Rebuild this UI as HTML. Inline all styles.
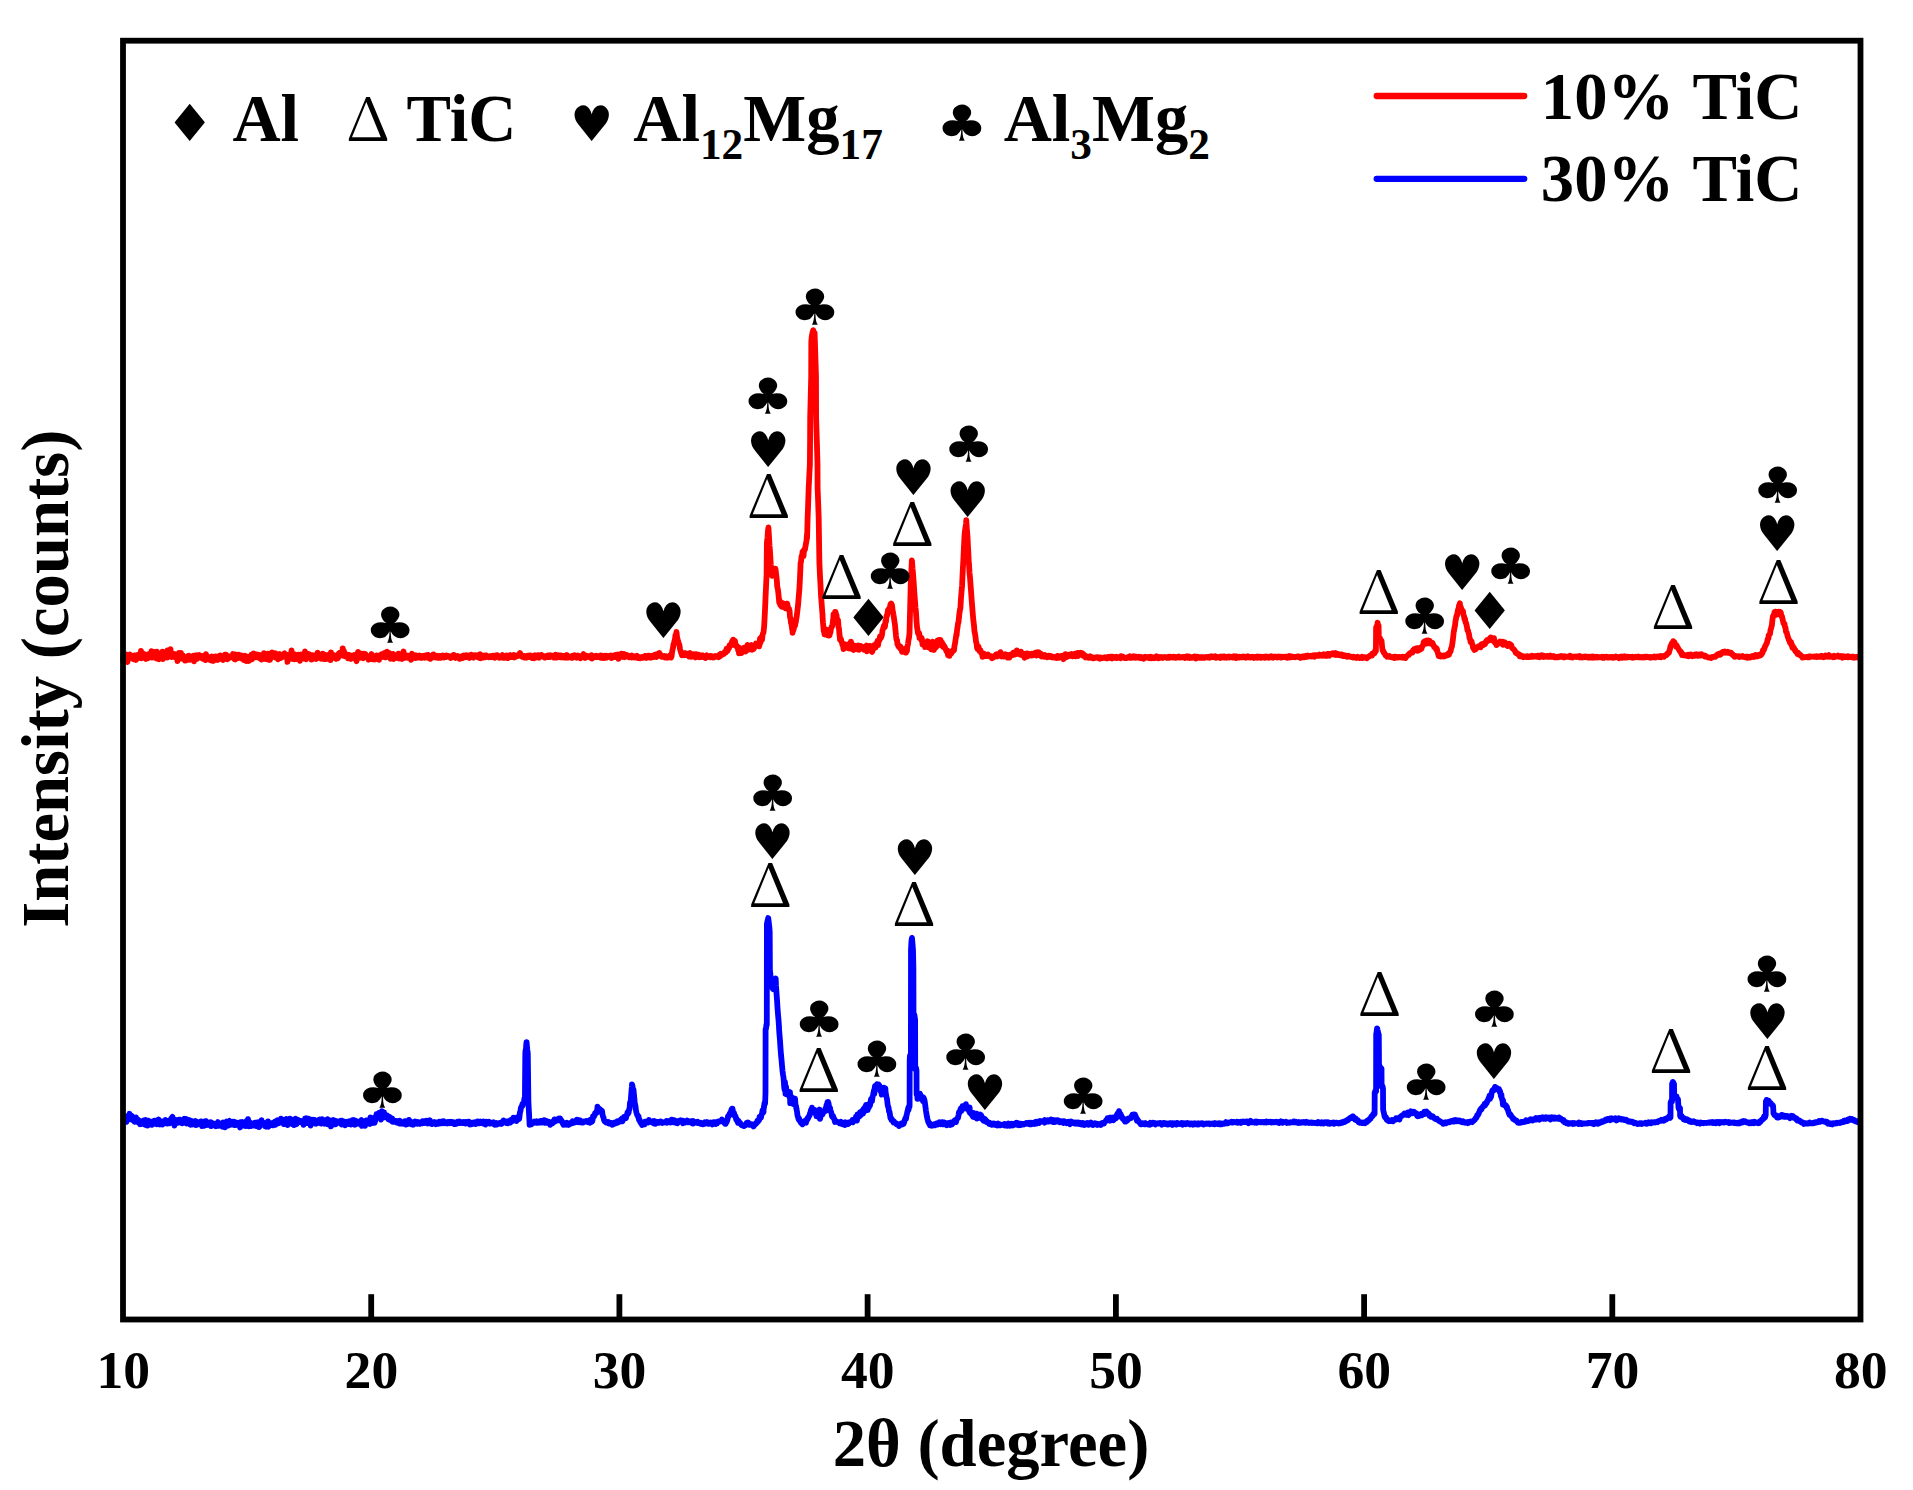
<!DOCTYPE html>
<html><head><meta charset="utf-8"><title>XRD</title>
<style>
html,body{margin:0;padding:0;background:#fff;overflow:hidden;}
svg{display:block;}
text{font-family:"Liberation Serif","DejaVu Serif",serif;fill:#000;}
.b{font-weight:bold;}
.s{font-family:"DejaVu Sans","Liberation Serif",sans-serif;}
.D{font-family:"Noto Serif CJK SC","Liberation Serif",serif;}
</style></head>
<body>
<svg width="1913" height="1490" viewBox="0 0 1913 1490">
<rect width="1913" height="1490" fill="#fff"/>
<g fill="none" stroke-linejoin="round" stroke-linecap="butt" stroke-width="5.8">
<path stroke="#ff0000" d="M123.0,661.5 123.5,654.6 124.0,658.7 124.5,657.1 125.0,657.0 125.5,657.2 126.0,654.4 126.5,656.8 127.0,655.6 127.5,662.0 128.0,656.9 128.5,655.8 129.0,656.0 129.5,655.2 130.0,654.5 130.5,655.7 131.0,657.4 131.5,656.0 132.0,658.2 132.5,656.1 133.0,656.5 133.5,659.3 134.0,657.4 134.5,655.4 135.0,656.0 135.5,657.4 136.0,660.0 136.5,655.9 137.0,655.9 137.5,658.3 138.0,654.6 138.5,655.8 139.0,658.0 139.5,657.4 140.0,656.5 140.5,657.6 141.0,650.8 141.5,658.3 142.0,654.4 142.5,653.0 143.0,656.8 143.5,657.6 144.0,655.4 144.5,654.1 145.0,656.3 145.5,656.1 146.0,659.0 146.5,657.7 147.0,656.6 147.5,658.4 148.0,655.8 148.5,654.3 149.0,657.3 149.5,657.3 150.0,655.7 150.5,654.6 151.0,656.6 151.5,651.1 152.0,657.5 152.5,657.1 153.0,652.8 153.5,656.2 154.0,654.1 154.5,657.6 155.0,652.0 155.5,654.2 156.0,657.5 156.5,658.4 157.0,651.6 157.5,655.0 158.0,656.7 158.5,654.8 159.0,659.3 159.5,653.6 160.0,656.7 160.5,653.8 161.0,658.6 161.5,655.6 162.0,654.7 162.5,651.6 163.0,659.0 163.5,656.8 164.0,656.7 164.5,657.5 165.0,655.6 165.5,653.1 166.0,652.5 166.5,652.4 167.0,657.7 167.5,650.4 168.0,652.4 168.5,653.0 169.0,654.4 169.5,655.2 170.0,649.9 170.5,649.2 171.0,653.9 171.5,657.1 172.0,656.2 172.5,655.0 173.0,654.0 173.5,655.6 174.0,654.6 174.5,657.1 175.0,654.0 175.5,656.1 176.0,655.8 176.5,657.1 177.0,656.6 177.5,661.1 178.0,659.1 178.5,659.1 179.0,652.8 179.5,655.9 180.0,655.6 180.5,657.6 181.0,653.0 181.5,658.7 182.0,658.6 182.5,655.0 183.0,655.6 183.5,655.9 184.0,657.3 184.5,658.3 185.0,660.6 185.5,657.1 186.0,658.6 186.5,657.6 187.0,660.2 187.5,658.6 188.0,659.6 188.5,655.7 189.0,657.1 189.5,656.1 190.0,659.8 190.5,658.5 191.0,656.9 191.5,656.7 192.0,658.2 192.5,656.3 193.0,655.9 193.5,658.2 194.0,661.3 194.5,657.0 195.0,656.5 195.5,655.5 196.0,655.3 196.5,658.2 197.0,658.8 197.5,657.4 198.0,657.9 198.5,657.6 199.0,657.6 199.5,655.0 200.0,656.7 200.5,657.6 201.0,656.1 201.5,656.6 202.0,656.1 202.5,656.9 203.0,658.8 203.5,656.7 204.0,657.2 204.5,658.7 205.0,658.4 205.5,660.1 206.0,654.1 206.5,658.8 207.0,656.6 207.5,657.6 208.0,658.7 208.5,659.1 209.0,659.1 209.5,657.6 210.0,660.0 210.5,656.9 211.0,657.2 211.5,658.7 212.0,656.5 212.5,660.9 213.0,659.0 213.5,660.9 214.0,657.4 214.5,656.8 215.0,657.7 215.5,658.6 216.0,656.5 216.5,658.0 217.0,657.4 217.5,660.0 218.0,656.3 218.5,659.1 219.0,656.4 219.5,655.9 220.0,656.3 220.5,655.5 221.0,657.6 221.5,659.1 222.0,657.7 222.5,658.4 223.0,660.0 223.5,657.8 224.0,657.7 224.5,657.0 225.0,654.8 225.5,658.6 226.0,654.6 226.5,658.4 227.0,657.4 227.5,659.2 228.0,657.3 228.5,656.1 229.0,658.0 229.5,656.5 230.0,657.1 230.5,657.5 231.0,657.2 231.5,657.1 232.0,656.1 232.5,657.1 233.0,654.0 233.5,657.1 234.0,655.5 234.5,659.2 235.0,659.4 235.5,654.3 236.0,657.6 236.5,657.2 237.0,655.7 237.5,658.3 238.0,656.7 238.5,654.6 239.0,657.0 239.5,657.2 240.0,657.6 240.5,655.4 241.0,658.4 241.5,658.6 242.0,655.6 242.5,656.3 243.0,657.3 243.5,656.5 244.0,660.2 244.5,657.7 245.0,655.8 245.5,656.1 246.0,657.3 246.5,661.1 247.0,657.1 247.5,657.6 248.0,658.2 248.5,657.3 249.0,661.0 249.5,656.5 250.0,658.5 250.5,657.3 251.0,657.8 251.5,654.7 252.0,659.3 252.5,655.8 253.0,655.8 253.5,653.5 254.0,653.6 254.5,656.1 255.0,656.8 255.5,656.1 256.0,657.3 256.5,656.0 257.0,654.5 257.5,656.6 258.0,656.2 258.5,654.8 259.0,656.8 259.5,658.1 260.0,656.1 260.5,655.2 261.0,657.4 261.5,659.6 262.0,656.1 262.5,656.3 263.0,656.2 263.5,658.8 264.0,653.1 264.5,657.2 265.0,658.7 265.5,655.0 266.0,659.2 266.5,657.5 267.0,655.5 267.5,656.9 268.0,653.6 268.5,655.4 269.0,659.9 269.5,654.8 270.0,659.9 270.5,656.3 271.0,658.3 271.5,656.5 272.0,652.3 272.5,655.4 273.0,656.8 273.5,654.3 274.0,653.9 274.5,657.1 275.0,655.2 275.5,653.2 276.0,655.1 276.5,658.0 277.0,655.5 277.5,658.2 278.0,659.3 278.5,656.5 279.0,654.3 279.5,654.0 280.0,656.4 280.5,658.1 281.0,656.9 281.5,657.4 282.0,655.6 282.5,657.0 283.0,655.5 283.5,655.8 284.0,653.9 284.5,653.4 285.0,655.5 285.5,654.3 286.0,654.5 286.5,657.6 287.0,656.2 287.5,661.9 288.0,658.1 288.5,655.2 289.0,657.8 289.5,657.0 290.0,655.0 290.5,658.5 291.0,654.9 291.5,650.5 292.0,657.9 292.5,655.2 293.0,659.2 293.5,655.1 294.0,654.1 294.5,659.3 295.0,654.3 295.5,656.7 296.0,659.1 296.5,656.5 297.0,656.2 297.5,656.5 298.0,657.9 298.5,654.7 299.0,657.5 299.5,657.4 300.0,660.8 300.5,655.6 301.0,654.5 301.5,657.7 302.0,655.5 302.5,656.9 303.0,656.6 303.5,658.6 304.0,655.0 304.5,656.1 305.0,651.4 305.5,654.6 306.0,659.3 306.5,655.0 307.0,654.9 307.5,653.9 308.0,657.4 308.5,656.6 309.0,654.0 309.5,657.6 310.0,656.8 310.5,657.8 311.0,655.1 311.5,659.7 312.0,657.1 312.5,656.1 313.0,655.3 313.5,655.8 314.0,658.0 314.5,655.8 315.0,658.4 315.5,657.4 316.0,658.9 316.5,657.9 317.0,656.2 317.5,652.6 318.0,656.9 318.5,657.8 319.0,656.6 319.5,657.4 320.0,655.4 320.5,655.6 321.0,654.5 321.5,658.9 322.0,656.6 322.5,655.3 323.0,653.7 323.5,656.0 324.0,659.1 324.5,657.2 325.0,654.9 325.5,659.1 326.0,659.1 326.5,658.2 327.0,657.8 327.5,658.5 328.0,657.4 328.5,657.8 329.0,654.8 329.5,659.2 330.0,656.7 330.5,660.2 331.0,652.3 331.5,657.7 332.0,658.2 332.5,655.6 333.0,657.2 333.5,657.7 334.0,657.4 334.5,655.3 335.0,656.0 335.5,658.3 336.0,658.8 336.5,656.5 337.0,656.4 337.5,656.7 338.0,658.2 338.5,654.1 339.0,653.2 339.5,655.7 340.0,652.8 340.5,653.5 341.0,654.7 341.5,655.3 342.0,651.3 342.5,655.6 342.7,648.5 343.0,655.0 343.5,650.3 344.0,651.4 344.5,656.1 345.0,654.1 345.5,653.7 346.0,654.8 346.5,656.8 347.0,656.2 347.5,656.2 348.0,658.3 348.5,654.9 349.0,655.4 349.5,655.3 350.0,658.6 350.5,658.2 351.0,658.8 351.5,656.2 352.0,656.0 352.5,657.9 353.0,655.5 353.5,657.9 354.0,657.7 354.5,655.0 355.0,656.1 355.5,656.1 356.0,659.6 356.5,661.3 357.0,656.1 357.5,656.3 358.0,651.9 358.5,656.7 359.0,656.3 359.5,654.2 360.0,657.8 360.5,653.3 361.0,655.9 361.5,656.6 362.0,653.9 362.5,657.9 363.0,658.3 363.5,653.6 364.0,653.6 364.5,657.5 365.0,656.2 365.5,654.0 366.0,655.7 366.5,656.1 367.0,656.0 367.5,657.9 368.0,657.0 368.5,659.7 369.0,658.9 369.5,657.6 370.0,658.3 370.5,658.8 371.0,657.6 371.5,654.0 372.0,657.9 372.5,656.4 373.0,659.4 373.5,656.5 374.0,657.3 374.5,656.9 375.0,659.5 375.5,656.6 376.0,655.8 376.5,656.9 377.0,655.5 377.5,656.6 378.0,656.3 378.5,656.8 379.0,659.9 379.5,655.5 380.0,656.4 380.5,655.9 381.0,657.5 381.5,654.1 382.0,655.1 382.5,655.9 383.0,656.7 383.5,655.3 384.0,654.1 384.5,653.0 385.0,655.6 385.5,657.4 386.0,654.6 386.5,654.0 386.6,654.6 387.0,651.6 387.5,653.4 388.0,653.8 388.5,655.3 389.0,655.0 389.5,653.1 390.0,657.6 390.5,658.7 391.0,655.9 391.5,657.0 392.0,656.8 392.5,657.7 393.0,653.8 393.5,659.1 394.0,655.5 394.5,658.5 395.0,656.5 395.5,655.7 396.0,656.1 396.5,657.8 397.0,655.0 397.5,655.8 398.0,655.6 398.5,653.6 399.0,658.5 399.5,657.3 400.0,656.4 400.5,658.2 401.0,654.9 401.5,656.3 402.0,659.0 402.5,657.9 403.0,653.1 403.5,651.5 404.0,654.9 404.5,658.0 405.0,655.8 405.5,656.1 406.0,657.3 406.5,655.2 407.0,656.8 407.5,657.6 408.0,657.1 408.5,657.0 409.0,655.7 409.5,657.2 410.0,655.9 410.5,658.2 411.0,659.8 411.5,655.6 412.0,653.7 412.5,656.0 413.0,657.0 413.5,657.8 414.0,657.9 414.5,655.6 415.0,655.6 415.5,658.1 416.0,655.3 416.5,657.8 417.0,656.3 417.5,657.5 418.0,657.4 418.5,657.5 419.0,657.5 419.5,655.5 420.0,656.9 420.5,656.6 421.0,656.9 421.5,657.9 422.0,656.3 422.5,655.9 423.0,655.8 423.5,656.3 424.0,657.4 424.5,655.8 425.0,657.8 425.5,656.9 426.0,656.4 426.5,655.3 427.0,656.8 427.5,657.3 428.0,654.9 428.5,657.8 429.0,658.2 429.5,656.9 430.0,657.1 430.5,658.9 431.0,657.8 431.5,655.8 432.0,656.6 432.5,656.5 433.0,656.5 433.5,654.4 434.0,657.3 434.5,656.0 435.0,656.7 435.5,656.5 436.0,657.4 436.5,656.3 437.0,655.9 437.5,657.1 438.0,657.8 438.5,656.3 439.0,657.8 439.5,656.8 440.0,656.1 440.5,657.9 441.0,655.9 441.5,657.5 442.0,656.2 442.5,657.0 443.0,655.5 443.5,655.9 444.0,657.5 444.5,656.8 445.0,656.6 445.5,656.2 446.0,657.0 446.5,655.4 447.0,655.7 447.5,656.5 448.0,655.9 448.5,656.0 449.0,656.5 449.5,656.5 450.0,656.4 450.5,658.0 451.0,657.4 451.5,657.6 452.0,656.6 452.5,656.2 453.0,655.4 453.5,656.3 454.0,654.9 454.5,656.1 455.0,657.2 455.5,657.9 456.0,657.4 456.5,655.9 457.0,657.0 457.5,655.9 458.0,657.2 458.5,656.5 459.0,657.3 459.5,658.7 460.0,657.3 460.5,658.5 461.0,656.7 461.5,656.3 462.0,657.6 462.5,658.0 463.0,656.1 463.5,656.6 464.0,655.4 464.5,656.4 465.0,657.3 465.5,656.5 466.0,656.1 466.5,655.4 467.0,656.9 467.5,657.2 468.0,657.0 468.5,656.8 469.0,655.5 469.5,658.0 470.0,656.5 470.5,656.4 471.0,657.1 471.5,654.8 472.0,656.5 472.5,656.4 473.0,656.9 473.5,657.6 474.0,656.9 474.5,655.1 475.0,656.3 475.5,656.7 476.0,656.7 476.5,655.5 477.0,655.2 477.5,657.0 478.0,656.8 478.5,656.5 479.0,655.2 479.5,658.0 480.0,654.2 480.5,656.3 481.0,658.2 481.5,656.4 482.0,656.7 482.5,655.6 483.0,657.6 483.5,655.5 484.0,656.7 484.5,656.6 485.0,655.7 485.5,657.3 486.0,655.4 486.5,656.0 487.0,656.5 487.5,656.2 488.0,656.9 488.5,657.3 489.0,656.3 489.5,656.1 490.0,656.1 490.5,656.2 491.0,657.2 491.5,656.4 492.0,656.9 492.5,656.5 493.0,655.9 493.5,657.2 494.0,655.7 494.5,656.5 495.0,657.7 495.5,655.6 496.0,656.5 496.5,655.3 497.0,656.1 497.5,655.3 498.0,656.2 498.5,656.1 499.0,656.6 499.5,657.8 500.0,656.7 500.5,657.0 501.0,656.5 501.5,656.3 502.0,655.8 502.5,655.1 503.0,656.6 503.5,657.8 504.0,656.9 504.5,656.1 505.0,657.8 505.5,656.2 506.0,656.0 506.5,655.5 507.0,655.7 507.5,656.3 508.0,658.1 508.5,656.3 509.0,655.7 509.5,656.0 510.0,656.3 510.5,655.1 511.0,656.6 511.5,657.1 512.0,656.8 512.5,657.0 513.0,655.5 513.5,655.1 514.0,657.5 514.5,657.4 515.0,655.3 515.5,656.5 516.0,656.3 516.5,656.6 517.0,656.2 517.5,655.4 518.0,655.9 518.5,655.8 519.0,655.5 519.5,653.9 520.0,653.0 520.5,655.1 521.0,654.5 521.5,656.2 522.0,656.7 522.5,656.4 523.0,656.0 523.5,656.5 524.0,657.4 524.5,655.9 525.0,657.2 525.5,657.1 526.0,656.7 526.5,657.7 527.0,655.9 527.5,657.3 528.0,655.7 528.5,655.9 529.0,655.6 529.5,656.9 530.0,655.7 530.5,656.5 531.0,655.6 531.5,657.4 532.0,658.0 532.5,656.7 533.0,657.8 533.5,657.0 534.0,658.3 534.5,656.6 535.0,655.2 535.5,657.7 536.0,656.4 536.5,655.7 537.0,656.0 537.5,655.2 538.0,656.4 538.5,655.6 539.0,657.7 539.5,657.0 540.0,655.2 540.5,655.3 541.0,656.0 541.5,654.9 542.0,656.4 542.5,656.5 543.0,655.9 543.5,656.1 544.0,656.9 544.5,657.6 545.0,657.7 545.5,656.5 546.0,657.2 546.5,655.9 547.0,656.8 547.5,655.7 548.0,657.1 548.5,655.5 549.0,655.7 549.5,656.5 550.0,657.0 550.5,655.3 551.0,656.1 551.5,656.6 552.0,656.7 552.5,655.8 553.0,656.6 553.5,656.3 554.0,657.6 554.5,657.0 555.0,655.4 555.5,654.7 556.0,656.6 556.5,657.5 557.0,656.6 557.5,657.2 558.0,656.1 558.5,655.4 559.0,657.1 559.5,656.6 560.0,657.1 560.5,655.4 561.0,656.6 561.5,656.0 562.0,657.2 562.5,656.0 563.0,656.0 563.5,656.0 564.0,657.5 564.5,656.5 565.0,655.9 565.5,655.7 566.0,655.7 566.5,657.7 567.0,655.0 567.5,655.8 568.0,657.0 568.5,657.5 569.0,656.4 569.5,657.1 570.0,657.1 570.5,657.3 571.0,656.5 571.5,657.8 572.0,656.7 572.5,657.8 573.0,655.6 573.5,657.3 574.0,655.5 574.5,655.3 575.0,656.9 575.5,655.9 576.0,656.9 576.5,655.7 577.0,657.8 577.5,656.5 578.0,655.6 578.5,656.7 579.0,657.2 579.5,655.9 580.0,657.0 580.5,658.2 581.0,657.2 581.5,656.5 582.0,656.1 582.5,657.0 583.0,655.3 583.5,654.1 584.0,656.0 584.5,655.7 585.0,658.0 585.5,656.7 586.0,655.7 586.5,655.6 587.0,657.0 587.5,655.9 588.0,656.1 588.5,656.5 589.0,656.6 589.5,656.6 590.0,656.6 590.5,657.6 591.0,657.9 591.5,655.2 592.0,658.6 592.5,656.7 593.0,657.6 593.5,656.0 594.0,656.8 594.5,656.7 595.0,656.7 595.5,657.2 596.0,657.1 596.5,655.7 597.0,656.5 597.5,657.1 598.0,657.1 598.5,656.3 599.0,656.3 599.5,656.4 600.0,655.7 600.5,655.5 601.0,657.8 601.5,656.2 602.0,656.6 602.5,655.9 603.0,657.6 603.5,657.9 604.0,656.3 604.5,656.9 605.0,655.9 605.5,657.9 606.0,657.2 606.5,655.8 607.0,657.5 607.5,656.7 608.0,656.8 608.5,656.7 609.0,655.8 609.5,655.9 610.0,656.9 610.5,656.3 611.0,655.6 611.5,658.1 612.0,656.2 612.5,655.9 613.0,655.7 613.5,656.9 614.0,657.1 614.5,656.5 615.0,657.0 615.5,655.0 616.0,656.0 616.5,655.9 617.0,656.3 617.5,656.7 618.0,654.5 618.5,658.9 619.0,655.5 619.5,656.5 620.0,656.9 620.5,656.9 621.0,656.4 621.5,653.6 622.0,655.2 622.5,656.8 623.0,655.3 623.5,655.2 624.0,654.0 624.5,657.2 625.0,656.5 625.5,655.3 626.0,656.0 626.5,656.0 627.0,655.1 627.5,655.8 628.0,656.3 628.5,656.6 629.0,657.2 629.5,656.3 630.0,656.0 630.5,656.7 631.0,656.0 631.5,655.6 632.0,657.5 632.5,656.4 633.0,656.9 633.5,657.3 634.0,656.2 634.5,657.5 635.0,657.4 635.5,657.1 636.0,657.5 636.5,656.8 637.0,655.9 637.5,657.3 637.6,656.9 638.0,658.1 638.5,657.6 639.0,657.1 639.5,657.4 640.0,658.3 640.5,658.1 641.0,657.5 641.5,657.6 642.0,657.0 642.5,657.1 643.0,657.6 643.5,657.0 644.0,657.3 644.5,656.3 645.0,655.9 645.5,655.8 646.0,656.6 646.5,657.9 647.0,657.7 647.5,656.1 648.0,655.7 648.5,657.4 649.0,657.1 649.5,655.7 650.0,657.5 650.5,656.8 651.0,657.6 651.5,656.9 652.0,657.3 652.5,656.8 652.7,655.8 653.0,656.3 653.5,655.8 654.0,656.9 654.5,655.3 655.0,654.7 655.5,656.5 656.0,656.8 656.5,657.0 657.0,656.6 657.5,654.0 658.0,654.6 658.5,654.7 659.0,655.1 659.3,652.8 659.5,655.1 660.0,655.5 660.5,654.5 661.0,655.6 661.5,656.7 662.0,655.8 662.5,656.8 663.0,656.9 663.5,656.5 664.0,656.7 664.5,656.2 665.0,657.6 665.5,656.5 665.9,656.4 666.0,657.4 666.5,656.3 667.0,657.1 667.5,657.6 668.0,656.8 668.5,656.8 669.0,657.4 669.5,657.2 670.0,655.4 670.5,655.6 671.0,657.6 671.5,656.7 672.0,652.6 672.5,649.9 673.0,647.9 673.5,644.1 674.0,643.4 674.5,640.8 675.0,639.2 675.5,634.9 676.0,635.1 676.4,635.8 676.5,632.0 677.0,637.0 677.5,639.0 678.0,640.9 678.5,642.6 679.0,643.8 679.5,645.6 680.0,649.0 680.5,650.7 681.0,652.4 681.5,653.7 682.0,655.3 682.5,654.1 683.0,653.3 683.5,654.9 684.0,655.2 684.5,654.8 685.0,653.1 685.5,654.3 686.0,653.3 686.5,655.1 687.0,653.8 687.5,654.8 688.0,655.4 688.5,655.2 689.0,656.5 689.5,654.0 690.0,653.0 690.5,656.2 691.0,656.7 691.5,656.8 692.0,655.6 692.5,655.9 693.0,655.6 693.5,654.2 694.0,655.0 694.5,656.0 695.0,655.1 695.5,657.5 696.0,654.2 696.5,655.3 697.0,656.8 697.5,655.3 698.0,654.8 698.5,654.7 699.0,655.3 699.5,657.3 700.0,656.4 700.5,656.5 701.0,655.6 701.5,656.9 702.0,656.3 702.5,655.4 703.0,655.8 703.5,656.4 704.0,657.3 704.5,656.3 705.0,656.8 705.5,658.0 706.0,655.8 706.5,655.4 707.0,657.3 707.5,656.9 708.0,656.5 708.5,656.8 709.0,656.4 709.5,657.0 710.0,656.4 710.5,657.3 711.0,655.9 711.5,656.2 712.0,656.9 712.5,656.5 713.0,657.4 713.5,656.9 714.0,656.6 714.5,657.1 715.0,656.6 715.3,656.0 715.5,656.2 716.0,656.1 716.5,656.1 717.0,656.3 717.5,656.7 718.0,656.2 718.5,657.1 719.0,656.4 719.5,654.8 720.0,656.4 720.5,655.7 721.0,653.8 721.5,654.3 722.0,655.0 722.5,653.8 723.0,654.5 723.5,653.5 724.0,653.7 724.5,652.2 725.0,652.8 725.5,651.6 726.0,652.2 726.5,648.7 727.0,650.5 727.5,651.0 728.0,649.5 728.5,648.0 729.0,648.2 729.5,645.5 730.0,644.8 730.5,644.7 731.0,644.2 731.5,645.0 732.0,641.3 732.5,643.5 733.0,639.6 733.2,639.6 733.5,641.2 734.0,644.0 734.5,642.2 735.0,641.0 735.5,645.7 736.0,646.0 736.5,645.3 737.0,646.2 737.5,647.5 738.0,649.3 738.3,650.7 738.5,647.2 739.0,653.3 739.5,649.4 740.0,648.8 740.5,650.4 741.0,649.4 741.5,653.1 742.0,650.9 742.5,648.4 743.0,648.2 743.5,648.0 744.0,648.2 744.5,649.8 745.0,647.4 745.5,651.5 746.0,648.4 746.5,648.3 747.0,650.3 747.5,645.0 748.0,646.9 748.5,649.7 749.0,648.6 749.5,648.6 750.0,649.3 750.5,647.5 750.7,648.3 751.0,646.2 751.5,645.1 752.0,649.8 752.5,645.9 753.0,645.9 753.5,649.2 754.0,648.3 754.5,645.3 755.0,644.9 755.5,645.4 756.0,643.5 756.5,645.8 757.0,644.7 757.5,644.4 758.0,645.2 758.5,644.8 759.0,646.4 759.5,645.0 760.0,638.7 760.5,642.6 761.0,638.2 761.5,636.9 762.0,639.8 762.5,635.4 763.0,633.3 763.5,632.5 764.0,627.7 764.1,627.1 764.5,620.0 765.0,610.2 765.4,601.5 765.5,598.2 766.0,587.5 766.5,576.6 766.6,575.0 766.9,542.5 767.0,542.1 767.5,537.3 768.0,530.8 768.4,527.5 768.5,529.0 769.0,536.5 769.3,542.2 769.5,545.5 770.0,551.4 770.5,560.0 770.8,564.5 771.0,566.4 771.5,567.4 772.0,571.9 772.2,575.9 772.5,574.6 773.0,569.8 773.5,571.5 774.0,573.6 774.5,569.1 775.0,569.4 775.4,570.9 775.5,568.7 776.0,573.4 776.5,577.3 777.0,582.5 777.2,586.7 777.5,587.4 778.0,590.2 778.5,594.5 779.0,599.6 779.2,602.4 779.5,600.0 780.0,604.5 780.5,602.5 781.0,605.6 781.5,606.4 782.0,606.7 782.5,603.1 783.0,604.0 783.5,606.3 784.0,603.5 784.5,605.2 785.0,606.4 785.5,608.2 786.0,604.4 786.5,603.9 787.0,605.0 787.2,603.5 787.5,605.1 788.0,608.0 788.5,609.5 789.0,608.7 789.4,611.5 789.5,609.9 790.0,617.1 790.5,618.7 791.0,623.0 791.5,623.8 792.0,628.0 792.5,631.3 792.6,632.8 793.0,627.7 793.5,630.4 794.0,627.2 794.5,624.7 795.0,625.8 795.5,622.9 795.8,622.3 796.0,620.4 796.5,617.8 797.0,613.9 797.5,610.0 798.0,605.7 798.5,599.5 799.0,593.5 799.5,587.5 799.6,585.1 800.0,577.3 800.5,565.8 800.6,563.0 801.0,562.0 801.5,556.7 802.0,555.3 802.3,554.8 802.5,551.7 803.0,551.2 803.5,556.2 804.0,550.0 804.5,549.1 805.0,549.3 805.5,546.3 806.0,543.3 806.5,540.9 807.0,534.1 807.1,538.0 807.5,522.2 807.6,518.6 808.0,508.0 808.5,493.6 808.7,487.4 809.0,482.1 809.5,471.3 809.9,463.9 810.0,451.8 810.1,439.9 810.2,417.0 810.5,405.0 811.0,385.1 811.2,377.1 811.3,342.0 811.5,339.3 812.0,334.7 812.2,335.1 812.5,332.3 813.0,331.6 813.2,330.1 813.5,331.5 814.0,332.9 814.5,332.7 814.6,332.8 814.9,341.7 815.0,344.8 815.5,361.2 816.0,377.0 816.1,417.0 816.5,430.4 817.0,446.9 817.5,464.0 817.6,488.0 818.0,498.0 818.5,512.5 818.7,517.7 819.0,537.6 819.4,563.2 819.5,565.0 820.0,576.2 820.5,584.8 821.0,595.4 821.5,601.7 822.0,608.4 822.5,614.4 822.6,617.1 823.0,622.8 823.5,628.2 823.7,630.7 824.0,629.7 824.5,634.4 825.0,632.8 825.5,634.6 826.0,629.3 826.5,634.1 827.0,631.4 827.5,635.2 828.0,635.4 828.5,632.9 829.0,634.7 829.5,635.4 830.0,633.1 830.5,632.1 831.0,628.2 831.5,627.3 831.8,626.4 832.0,626.8 832.5,624.8 833.0,620.5 833.4,617.3 833.5,614.5 834.0,617.1 834.5,614.5 835.0,612.0 835.5,612.0 836.0,614.2 836.5,615.0 837.0,621.4 837.5,620.3 838.0,620.1 838.2,622.0 838.5,627.0 839.0,628.7 839.5,634.7 839.8,637.1 840.0,639.4 840.5,639.3 841.0,639.2 841.5,641.9 842.0,642.6 842.5,645.1 843.0,645.1 843.5,649.2 844.0,645.2 844.5,646.3 845.0,644.3 845.5,645.9 846.0,645.8 846.5,646.2 847.0,647.7 847.5,645.0 848.0,644.5 848.5,648.3 849.0,645.8 849.5,645.1 850.0,648.7 850.5,648.0 851.0,641.7 851.5,646.1 852.0,648.3 852.5,648.5 853.0,646.1 853.5,650.0 854.0,645.5 854.5,646.5 855.0,647.1 855.5,646.8 856.0,648.4 856.5,648.7 857.0,646.7 857.5,649.4 858.0,645.4 858.5,646.2 859.0,649.9 859.5,646.8 860.0,648.6 860.5,645.9 861.0,646.4 861.5,646.8 862.0,647.5 862.5,646.7 863.0,647.5 863.5,648.8 864.0,649.8 864.5,648.1 865.0,649.2 865.5,649.8 866.0,646.5 866.5,645.6 867.0,651.3 867.5,650.8 868.0,648.6 868.5,649.1 869.0,646.8 869.5,646.1 870.0,649.1 870.5,646.0 871.0,650.2 871.5,647.4 872.0,649.2 872.1,652.0 872.5,651.0 873.0,647.3 873.5,648.8 874.0,645.1 874.5,645.3 875.0,646.3 875.5,647.5 876.0,643.7 876.5,645.1 877.0,643.8 877.5,640.9 878.0,642.4 878.1,645.1 878.5,641.4 879.0,641.0 879.5,640.2 880.0,636.5 880.5,638.4 881.0,637.6 881.5,636.5 882.0,634.8 882.5,630.4 883.0,628.9 883.5,627.2 884.0,625.6 884.2,625.4 884.5,627.4 885.0,626.4 885.5,620.9 886.0,621.7 886.5,616.1 887.0,616.0 887.5,612.9 888.0,609.9 888.5,611.1 889.0,610.1 889.5,607.9 890.0,606.5 890.5,604.3 891.0,605.1 891.4,603.5 891.5,605.4 892.0,605.0 892.5,609.6 893.0,612.2 893.4,614.5 893.5,615.0 894.0,618.4 894.5,621.8 895.0,624.9 895.5,630.6 896.0,635.8 896.5,639.6 897.0,639.9 897.4,644.0 897.5,644.6 898.0,644.1 898.5,646.6 899.0,647.0 899.5,646.8 900.0,648.1 900.5,646.6 901.0,648.1 901.5,648.9 902.0,651.7 902.3,648.6 902.5,650.6 903.0,651.8 903.5,650.3 904.0,651.3 904.5,648.9 905.0,650.3 905.5,650.8 906.0,652.6 906.5,650.0 907.0,650.9 907.1,648.6 907.5,646.1 908.0,644.1 908.5,640.0 909.0,637.6 909.5,633.2 910.0,613.4 910.5,593.4 910.7,584.3 911.0,579.5 911.5,568.3 911.9,560.5 912.0,561.0 912.5,568.2 913.0,573.3 913.5,580.1 913.8,584.0 914.0,587.5 914.5,594.7 915.0,601.3 915.5,607.7 915.6,608.2 916.0,612.4 916.5,620.7 917.0,627.0 917.5,629.6 918.0,633.3 918.5,633.2 919.0,635.4 919.2,633.1 919.5,638.1 920.0,637.5 920.5,636.9 921.0,639.7 921.5,637.7 922.0,639.3 922.5,644.5 922.8,642.8 923.0,643.4 923.5,643.3 924.0,643.3 924.5,642.7 925.0,647.1 925.5,642.8 926.0,644.6 926.5,643.1 927.0,643.1 927.5,641.3 928.0,641.6 928.5,647.5 929.0,647.6 929.5,644.4 930.0,645.4 930.5,646.9 931.0,644.3 931.3,649.4 931.5,644.4 932.0,645.2 932.5,641.7 933.0,649.5 933.5,647.1 934.0,650.0 934.5,645.5 934.9,647.8 935.0,647.3 935.5,646.1 936.0,647.3 936.5,646.4 937.0,644.0 937.5,640.3 938.0,640.9 938.5,641.4 939.0,640.1 939.5,640.9 940.0,641.5 940.5,639.9 941.0,642.6 941.5,645.5 942.0,642.4 942.5,644.9 943.0,646.9 943.5,644.8 944.0,647.4 944.5,646.3 944.6,647.9 945.0,647.5 945.5,648.9 946.0,650.1 946.5,651.2 947.0,652.0 947.5,650.6 948.0,655.1 948.5,654.2 949.0,654.4 949.4,655.3 949.5,655.9 950.0,654.1 950.5,653.8 951.0,653.0 951.5,653.2 952.0,651.1 952.5,651.7 953.0,650.8 953.5,649.5 954.0,650.5 954.2,648.6 954.5,645.8 955.0,643.6 955.5,640.2 956.0,636.8 956.5,633.8 956.6,635.4 957.0,630.5 957.5,627.6 958.0,623.4 958.5,622.2 959.0,617.1 959.5,612.9 960.0,609.0 960.3,609.2 960.5,606.6 961.0,598.0 961.5,592.1 962.0,586.5 962.1,585.4 962.5,575.8 963.0,566.2 963.5,556.8 963.9,548.0 964.0,546.0 964.5,535.8 965.0,530.5 965.5,527.9 966.0,524.0 966.3,520.1 966.5,523.7 967.0,530.8 967.5,536.3 968.0,546.8 968.5,556.0 968.7,561.3 969.0,563.8 969.5,572.7 970.0,577.5 970.5,584.0 971.0,590.6 971.5,597.7 972.0,604.3 972.3,608.1 972.5,610.4 973.0,616.4 973.5,621.7 974.0,625.5 974.5,631.9 974.7,632.0 975.0,633.7 975.5,636.9 976.0,641.7 976.5,643.1 976.6,643.8 977.0,647.5 977.5,648.9 978.0,649.2 978.5,646.5 979.0,649.3 979.5,651.1 980.0,651.1 980.5,650.3 981.0,652.5 981.5,652.3 982.0,653.5 982.5,656.9 983.0,655.5 983.5,653.5 984.0,653.6 984.5,655.6 985.0,654.8 985.5,656.0 986.0,655.0 986.5,655.5 987.0,656.0 987.5,655.1 988.0,654.5 988.5,655.3 989.0,655.8 989.5,656.3 990.0,656.5 990.5,656.6 991.0,657.2 991.5,656.4 991.7,657.9 992.0,658.2 992.5,657.0 993.0,656.7 993.5,657.3 994.0,656.7 994.5,656.2 995.0,655.8 995.5,655.1 996.0,654.6 996.5,656.0 997.0,656.4 997.5,654.1 998.0,654.9 998.5,655.0 999.0,654.2 999.5,653.7 1000.0,653.9 1000.5,652.1 1000.7,654.0 1001.0,653.9 1001.5,656.5 1002.0,655.5 1002.5,654.3 1003.0,654.8 1003.5,656.6 1004.0,656.6 1004.5,655.5 1005.0,655.4 1005.5,654.4 1006.0,655.5 1006.5,655.8 1007.0,655.6 1007.5,657.6 1008.0,655.1 1008.5,656.5 1008.7,657.0 1009.0,656.8 1009.5,657.4 1010.0,654.8 1010.5,655.0 1011.0,655.3 1011.5,655.1 1012.0,654.3 1012.5,653.6 1013.0,655.1 1013.5,652.6 1014.0,652.8 1014.5,654.7 1015.0,654.7 1015.5,653.5 1016.0,651.2 1016.5,650.8 1016.8,650.4 1017.0,650.4 1017.5,651.5 1018.0,653.8 1018.5,652.8 1019.0,651.9 1019.5,652.2 1020.0,652.0 1020.5,654.8 1021.0,651.7 1021.5,654.3 1022.0,652.9 1022.5,653.5 1023.0,653.4 1023.5,655.9 1024.0,655.2 1024.5,657.8 1024.8,654.8 1025.0,654.7 1025.5,656.1 1026.0,655.9 1026.5,655.1 1027.0,653.4 1027.5,656.5 1028.0,655.6 1028.5,655.3 1029.0,654.3 1029.5,655.4 1030.0,654.1 1030.5,654.6 1031.0,654.2 1031.5,655.6 1032.0,653.7 1032.5,653.8 1033.0,655.2 1033.5,654.2 1034.0,653.8 1034.5,653.5 1035.0,654.7 1035.5,652.8 1036.0,654.0 1036.5,655.6 1036.9,653.7 1037.0,652.4 1037.5,652.2 1038.0,653.9 1038.5,652.7 1039.0,652.5 1039.5,653.6 1040.0,653.5 1040.5,655.6 1041.0,653.7 1041.5,656.5 1042.0,654.8 1042.5,655.7 1043.0,656.3 1043.5,656.2 1044.0,656.7 1044.5,655.8 1045.0,655.1 1045.5,656.5 1046.0,655.5 1046.5,656.3 1047.0,657.3 1047.5,656.6 1048.0,656.3 1048.5,655.9 1049.0,656.5 1049.5,656.6 1050.0,655.7 1050.5,657.0 1051.0,656.0 1051.5,656.9 1052.0,656.5 1052.5,657.5 1053.0,657.4 1053.5,656.8 1054.0,656.8 1054.5,657.1 1055.0,657.7 1055.5,657.5 1056.0,657.0 1056.5,657.1 1057.0,657.9 1057.5,655.9 1058.0,657.3 1058.5,656.4 1059.0,657.8 1059.5,656.7 1060.0,656.9 1060.5,656.2 1061.0,656.8 1061.5,657.3 1062.0,657.8 1062.5,655.8 1063.0,656.2 1063.5,659.2 1064.0,657.0 1064.5,656.3 1065.0,656.6 1065.5,654.2 1066.0,657.3 1066.5,656.1 1067.0,654.8 1067.5,656.8 1068.0,655.3 1068.5,654.9 1069.0,656.1 1069.5,655.9 1070.0,655.1 1070.5,655.3 1071.0,654.2 1071.5,654.0 1072.0,656.0 1072.5,656.3 1073.0,655.4 1073.5,655.3 1074.0,654.5 1074.5,654.7 1075.0,653.8 1075.5,656.3 1076.0,654.0 1076.5,654.9 1077.0,654.4 1077.5,653.0 1078.0,656.1 1078.5,653.8 1079.0,653.3 1079.5,654.1 1080.0,653.1 1080.5,653.9 1081.0,652.8 1081.5,654.6 1082.0,654.4 1082.5,653.4 1083.0,655.7 1083.5,655.3 1084.0,654.6 1084.5,655.9 1085.0,656.2 1085.5,657.4 1086.0,655.9 1086.5,657.2 1087.0,656.9 1087.5,657.6 1088.0,657.4 1088.5,657.5 1089.0,657.8 1089.5,656.8 1090.0,656.3 1090.5,657.5 1091.0,657.2 1091.5,657.5 1092.0,657.9 1092.5,657.4 1093.0,658.2 1093.5,657.5 1094.0,657.6 1094.5,658.0 1095.0,657.8 1095.5,657.4 1096.0,657.6 1096.5,657.1 1097.0,657.1 1097.5,657.5 1098.0,658.0 1098.5,657.2 1099.0,658.0 1099.5,658.6 1100.0,658.7 1100.5,657.5 1101.0,658.1 1101.5,657.8 1102.0,657.9 1102.5,658.0 1103.0,657.8 1103.5,657.9 1104.0,657.6 1104.5,657.3 1105.0,657.6 1105.5,657.8 1106.0,658.2 1106.5,657.7 1107.0,657.9 1107.5,658.3 1108.0,657.0 1108.5,657.3 1109.0,657.8 1109.5,657.5 1110.0,656.9 1110.5,658.0 1111.0,657.4 1111.5,656.9 1112.0,658.5 1112.5,656.8 1113.0,657.5 1113.5,657.1 1114.0,657.5 1114.5,657.8 1115.0,657.0 1115.5,657.4 1116.0,657.4 1116.5,656.9 1117.0,658.1 1117.5,657.5 1118.0,657.3 1118.5,657.1 1119.0,657.3 1119.5,657.5 1120.0,657.2 1120.5,658.1 1121.0,656.1 1121.5,656.3 1122.0,657.3 1122.5,656.5 1123.0,657.4 1123.5,657.1 1124.0,657.7 1124.5,657.6 1125.0,658.1 1125.5,657.9 1126.0,658.1 1126.5,657.7 1127.0,658.0 1127.5,657.7 1128.0,657.1 1128.5,656.8 1129.0,656.8 1129.5,657.7 1130.0,656.2 1130.5,657.5 1131.0,657.0 1131.5,657.8 1132.0,657.5 1132.5,657.0 1133.0,657.4 1133.5,656.3 1134.0,657.5 1134.5,657.6 1135.0,656.5 1135.5,657.8 1136.0,657.3 1136.5,657.5 1137.0,656.7 1137.5,657.7 1138.0,657.7 1138.5,657.4 1139.0,656.9 1139.5,657.8 1140.0,658.0 1140.5,657.6 1141.0,657.9 1141.5,657.1 1142.0,657.5 1142.5,657.6 1143.0,657.5 1143.5,658.7 1144.0,657.6 1144.5,657.1 1145.0,657.8 1145.5,656.9 1146.0,657.6 1146.5,657.7 1147.0,657.1 1147.5,657.2 1148.0,656.9 1148.5,657.4 1149.0,657.1 1149.5,658.2 1150.0,657.7 1150.5,657.3 1151.0,656.7 1151.5,658.3 1152.0,658.0 1152.5,657.6 1153.0,657.5 1153.5,657.5 1154.0,657.2 1154.5,658.2 1155.0,657.5 1155.5,656.7 1156.0,657.1 1156.5,656.2 1157.0,657.7 1157.5,657.7 1158.0,658.2 1158.5,658.3 1159.0,657.0 1159.5,657.6 1160.0,657.8 1160.5,657.7 1161.0,657.1 1161.5,657.7 1162.0,657.6 1162.5,658.0 1163.0,657.3 1163.5,657.2 1164.0,657.1 1164.5,657.2 1165.0,657.0 1165.5,657.2 1166.0,657.6 1166.5,657.5 1167.0,657.9 1167.5,657.8 1168.0,657.6 1168.5,656.8 1169.0,657.6 1169.5,657.8 1170.0,656.7 1170.5,656.8 1171.0,656.9 1171.5,656.9 1172.0,657.2 1172.5,656.9 1173.0,657.5 1173.5,656.8 1174.0,657.2 1174.5,657.1 1175.0,656.9 1175.5,657.7 1176.0,657.3 1176.5,657.5 1177.0,657.1 1177.5,657.6 1178.0,657.5 1178.5,657.2 1179.0,656.5 1179.5,657.6 1180.0,657.6 1180.5,657.4 1181.0,657.4 1181.5,657.3 1182.0,657.4 1182.5,656.9 1183.0,657.2 1183.5,657.4 1184.0,657.0 1184.5,656.9 1185.0,658.0 1185.5,657.5 1186.0,657.1 1186.5,657.1 1187.0,656.2 1187.5,656.7 1188.0,657.2 1188.5,657.8 1189.0,656.4 1189.5,657.0 1190.0,658.0 1190.5,657.5 1191.0,657.4 1191.5,657.7 1192.0,657.2 1192.5,657.2 1193.0,657.5 1193.5,657.6 1194.0,656.8 1194.5,657.9 1195.0,656.5 1195.5,657.0 1196.0,658.5 1196.5,657.0 1197.0,657.5 1197.5,656.8 1198.0,657.1 1198.5,656.9 1199.0,657.1 1199.5,657.5 1200.0,657.9 1200.5,657.6 1201.0,657.8 1201.5,657.0 1202.0,657.8 1202.5,657.4 1203.0,657.8 1203.5,657.1 1204.0,657.1 1204.5,657.7 1205.0,657.5 1205.5,657.3 1206.0,656.9 1206.5,657.2 1207.0,657.4 1207.5,657.5 1208.0,657.0 1208.5,657.1 1209.0,657.4 1209.5,656.8 1210.0,657.6 1210.5,657.2 1211.0,657.1 1211.5,656.3 1212.0,656.6 1212.5,656.8 1213.0,657.0 1213.5,656.8 1214.0,657.3 1214.5,657.2 1215.0,657.1 1215.5,656.4 1216.0,657.7 1216.5,657.1 1217.0,657.4 1217.5,656.9 1218.0,657.2 1218.5,657.4 1219.0,657.2 1219.5,657.5 1220.0,657.1 1220.5,657.9 1221.0,656.5 1221.5,656.9 1222.0,657.5 1222.5,657.1 1223.0,657.0 1223.5,656.5 1224.0,657.6 1224.5,656.4 1225.0,657.3 1225.5,657.2 1226.0,657.5 1226.5,657.7 1227.0,656.9 1227.5,656.8 1228.0,657.0 1228.5,656.5 1229.0,657.4 1229.5,657.0 1230.0,657.2 1230.5,656.7 1231.0,657.1 1231.5,656.9 1232.0,657.1 1232.5,656.7 1233.0,657.5 1233.5,656.9 1234.0,656.2 1234.5,657.4 1235.0,657.0 1235.5,656.8 1236.0,658.0 1236.5,657.1 1237.0,656.6 1237.5,656.9 1238.0,657.2 1238.5,657.0 1239.0,657.6 1239.5,657.5 1240.0,656.8 1240.5,657.1 1241.0,657.3 1241.5,657.0 1242.0,656.9 1242.5,657.4 1243.0,657.3 1243.5,656.6 1244.0,656.9 1244.5,656.9 1245.0,657.1 1245.5,656.8 1246.0,657.6 1246.5,656.7 1247.0,656.7 1247.5,657.2 1248.0,656.3 1248.5,656.7 1249.0,657.3 1249.5,656.6 1250.0,656.8 1250.5,657.5 1251.0,657.2 1251.5,657.1 1252.0,657.2 1252.5,656.8 1253.0,657.2 1253.5,657.0 1254.0,658.0 1254.5,657.3 1255.0,657.0 1255.5,657.1 1256.0,657.1 1256.5,656.6 1257.0,656.8 1257.5,657.6 1258.0,656.6 1258.5,656.9 1259.0,657.4 1259.5,657.6 1260.0,656.7 1260.5,657.6 1261.0,656.9 1261.5,657.6 1262.0,657.2 1262.5,657.0 1263.0,657.3 1263.5,657.3 1264.0,656.8 1264.5,657.8 1265.0,656.9 1265.5,657.5 1266.0,656.9 1266.5,656.4 1267.0,656.7 1267.5,657.0 1268.0,657.3 1268.5,657.7 1269.0,657.1 1269.5,657.0 1270.0,656.6 1270.5,657.0 1271.0,657.2 1271.5,656.3 1272.0,657.5 1272.5,657.4 1273.0,657.8 1273.5,656.7 1274.0,657.1 1274.5,657.1 1275.0,656.6 1275.5,656.8 1276.0,656.7 1276.5,657.2 1277.0,657.2 1277.5,657.5 1278.0,656.9 1278.5,656.6 1279.0,657.2 1279.5,657.2 1280.0,657.3 1280.5,657.5 1281.0,656.8 1281.5,657.3 1282.0,656.7 1282.5,657.1 1283.0,657.3 1283.5,657.0 1284.0,657.1 1284.5,656.6 1285.0,656.8 1285.5,657.1 1286.0,656.6 1286.5,656.7 1287.0,657.8 1287.5,657.1 1288.0,656.7 1288.5,656.7 1289.0,657.5 1289.5,656.1 1290.0,656.9 1290.5,657.2 1291.0,656.8 1291.5,657.2 1292.0,656.6 1292.5,657.0 1293.0,657.0 1293.5,657.0 1294.0,657.0 1294.5,657.0 1295.0,657.3 1295.5,656.9 1296.0,656.8 1296.5,656.9 1297.0,656.9 1297.5,656.5 1298.0,656.3 1298.5,656.5 1299.0,657.1 1299.5,656.7 1300.0,656.8 1300.5,657.9 1301.0,657.2 1301.5,656.8 1302.0,656.6 1302.5,657.2 1303.0,656.4 1303.5,657.1 1304.0,656.8 1304.5,657.1 1305.0,656.3 1305.5,656.8 1306.0,655.8 1306.5,656.3 1307.0,656.8 1307.5,656.6 1308.0,655.6 1308.5,656.5 1309.0,656.4 1309.5,656.1 1310.0,655.8 1310.5,656.0 1311.0,655.8 1311.5,656.4 1312.0,656.1 1312.5,656.3 1313.0,656.1 1313.5,655.3 1314.0,655.8 1314.5,656.7 1315.0,655.2 1315.5,655.8 1316.0,655.3 1316.5,655.2 1317.0,655.6 1317.5,655.9 1318.0,655.8 1318.5,655.6 1319.0,655.8 1319.5,654.6 1320.0,655.6 1320.5,655.4 1321.0,655.1 1321.5,655.1 1322.0,654.7 1322.5,655.6 1323.0,654.6 1323.5,654.3 1324.0,654.9 1324.5,654.6 1325.0,654.8 1325.5,655.6 1326.0,654.7 1326.5,654.8 1327.0,655.8 1327.5,653.9 1328.0,654.8 1328.5,655.2 1329.0,655.3 1329.5,655.6 1330.0,654.1 1330.5,654.7 1331.0,654.3 1331.5,654.1 1332.0,653.9 1332.5,653.4 1333.0,654.4 1333.5,654.5 1333.6,653.5 1334.0,654.6 1334.5,654.0 1335.0,653.8 1335.5,653.0 1336.0,655.0 1336.5,654.9 1337.0,654.5 1337.5,654.5 1338.0,654.1 1338.5,655.1 1339.0,654.9 1339.5,655.3 1340.0,655.2 1340.5,654.5 1341.0,654.5 1341.5,655.5 1342.0,654.6 1342.5,655.6 1343.0,655.9 1343.5,655.0 1344.0,656.0 1344.5,655.8 1345.0,656.0 1345.5,655.6 1346.0,656.0 1346.5,656.2 1347.0,656.8 1347.5,656.5 1348.0,656.4 1348.5,655.8 1349.0,656.5 1349.5,656.2 1350.0,656.5 1350.5,656.7 1351.0,657.0 1351.5,657.0 1352.0,656.9 1352.5,656.9 1353.0,657.4 1353.5,656.8 1354.0,657.2 1354.5,657.6 1355.0,657.2 1355.5,657.6 1356.0,657.6 1356.5,658.0 1357.0,657.7 1357.5,656.8 1358.0,657.4 1358.5,657.5 1359.0,657.7 1359.5,657.6 1360.0,658.1 1360.5,657.8 1361.0,657.1 1361.5,657.3 1362.0,656.8 1362.5,658.1 1363.0,657.5 1363.5,657.5 1364.0,657.1 1364.5,657.4 1365.0,657.7 1365.5,657.5 1366.0,657.5 1366.5,657.4 1367.0,658.3 1367.2,657.5 1367.5,657.1 1368.0,657.0 1368.5,656.8 1369.0,656.5 1369.5,656.2 1370.0,655.6 1370.5,655.6 1371.0,655.5 1371.5,654.5 1371.9,655.6 1372.0,655.4 1372.5,653.5 1373.0,653.6 1373.5,653.8 1374.0,653.5 1374.5,653.3 1375.0,650.9 1375.5,650.8 1375.9,651.2 1376.0,639.4 1376.1,627.5 1376.5,626.8 1377.0,625.5 1377.5,624.5 1377.6,622.7 1378.0,624.6 1378.5,625.5 1378.6,625.7 1378.8,637.2 1379.0,636.9 1379.5,639.2 1380.0,638.2 1380.5,640.9 1381.0,641.6 1381.5,640.6 1382.0,645.7 1382.5,650.3 1383.0,650.4 1383.5,652.2 1384.0,652.9 1384.5,653.0 1385.0,654.3 1385.5,655.4 1386.0,655.8 1386.5,655.7 1387.0,656.7 1387.5,655.8 1388.0,656.4 1388.5,656.8 1389.0,656.8 1389.5,656.0 1390.0,656.6 1390.5,656.8 1391.0,656.9 1391.5,657.2 1392.0,657.3 1392.5,657.3 1392.6,657.4 1393.0,657.6 1393.5,657.7 1394.0,656.7 1394.5,658.0 1395.0,657.1 1395.5,657.5 1396.0,656.8 1396.5,657.1 1397.0,656.9 1397.5,657.6 1398.0,657.6 1398.5,657.3 1399.0,657.2 1399.5,657.4 1400.0,657.0 1400.5,657.1 1401.0,657.0 1401.5,657.6 1402.0,657.3 1402.5,656.9 1403.0,657.4 1403.5,657.5 1404.0,657.7 1404.5,657.1 1405.0,657.4 1405.5,658.0 1405.8,657.2 1406.0,657.0 1406.5,656.8 1407.0,656.0 1407.5,655.7 1408.0,655.1 1408.5,654.5 1409.0,654.8 1409.5,653.7 1410.0,653.0 1410.5,652.9 1411.0,652.5 1411.5,652.3 1412.0,652.3 1412.5,652.5 1413.0,650.4 1413.5,650.6 1414.0,649.3 1414.5,650.3 1415.0,650.2 1415.2,649.2 1415.5,648.9 1416.0,648.8 1416.5,648.3 1417.0,649.9 1417.5,650.8 1418.0,648.3 1418.5,650.4 1419.0,649.0 1419.5,647.9 1420.0,649.3 1420.5,649.4 1420.9,649.0 1421.0,648.4 1421.5,648.6 1422.0,646.5 1422.5,646.2 1423.0,645.3 1423.5,643.3 1423.7,642.1 1424.0,641.8 1424.5,642.8 1425.0,643.2 1425.5,641.0 1426.0,641.7 1426.5,643.6 1427.0,640.3 1427.5,642.1 1428.0,641.8 1428.4,642.0 1428.5,640.3 1429.0,642.0 1429.5,640.7 1430.0,643.5 1430.5,641.9 1431.0,643.4 1431.5,642.7 1432.0,643.9 1432.5,642.8 1433.0,644.7 1433.1,645.0 1433.5,645.0 1434.0,646.8 1434.5,646.5 1435.0,647.4 1435.5,647.8 1436.0,649.3 1436.5,648.3 1436.9,649.1 1437.0,649.5 1437.5,651.7 1438.0,653.4 1438.5,655.4 1438.7,656.0 1439.0,655.7 1439.5,655.9 1440.0,656.2 1440.5,655.1 1441.0,656.6 1441.5,655.9 1442.0,656.0 1442.5,656.3 1443.0,656.1 1443.4,655.7 1443.5,656.2 1444.0,656.6 1444.5,656.2 1445.0,656.1 1445.5,655.2 1446.0,655.1 1446.5,655.5 1447.0,655.5 1447.5,654.6 1448.0,653.9 1448.5,653.3 1449.0,654.7 1449.1,653.3 1449.5,653.1 1450.0,651.9 1450.5,651.7 1451.0,649.0 1451.5,647.5 1451.9,646.7 1452.0,645.9 1452.5,642.5 1453.0,638.6 1453.5,634.2 1453.8,631.2 1454.0,631.2 1454.5,627.6 1455.0,625.8 1455.5,621.0 1456.0,618.9 1456.1,617.7 1456.5,615.7 1457.0,615.8 1457.5,612.3 1458.0,609.9 1458.5,608.7 1459.0,605.6 1459.5,604.8 1459.9,603.2 1460.0,606.7 1460.5,606.2 1461.0,607.9 1461.5,609.9 1462.0,609.9 1462.5,611.3 1463.0,611.2 1463.2,614.0 1463.5,614.9 1464.0,616.1 1464.5,619.4 1465.0,618.6 1465.5,622.4 1466.0,622.7 1466.5,624.8 1467.0,627.4 1467.5,630.5 1468.0,630.5 1468.5,632.5 1469.0,634.2 1469.5,638.2 1470.0,639.1 1470.3,640.2 1470.5,641.9 1471.0,641.8 1471.5,641.4 1472.0,643.7 1472.5,644.6 1473.0,647.7 1473.5,647.0 1474.0,649.1 1474.5,649.9 1475.0,649.5 1475.5,649.4 1476.0,648.9 1476.5,648.1 1477.0,647.3 1477.5,647.4 1478.0,646.7 1478.5,646.3 1479.0,646.7 1479.2,646.4 1479.5,646.7 1480.0,645.8 1480.5,647.4 1481.0,644.8 1481.5,644.3 1482.0,645.8 1482.5,644.0 1483.0,644.4 1483.5,644.9 1484.0,643.6 1484.5,643.1 1485.0,644.1 1485.5,643.2 1485.8,642.2 1486.0,641.4 1486.5,641.7 1487.0,640.1 1487.5,640.4 1488.0,639.7 1488.5,640.6 1489.0,640.6 1489.5,638.7 1490.0,638.5 1490.5,637.5 1491.0,637.5 1491.5,638.7 1492.0,640.0 1492.5,640.3 1493.0,640.7 1493.5,640.2 1494.0,638.1 1494.5,642.0 1495.0,642.7 1495.5,642.7 1496.0,643.0 1496.1,643.2 1496.5,645.1 1497.0,642.7 1497.5,644.0 1498.0,643.3 1498.5,643.2 1499.0,642.5 1499.5,642.3 1500.0,641.6 1500.5,643.4 1501.0,642.6 1501.5,641.7 1502.0,642.3 1502.5,641.9 1503.0,644.8 1503.5,643.0 1504.0,643.4 1504.5,642.2 1505.0,642.4 1505.5,644.6 1506.0,643.4 1506.5,643.9 1507.0,645.6 1507.5,645.9 1508.0,644.6 1508.5,644.5 1509.0,644.3 1509.3,643.9 1509.5,645.9 1510.0,644.0 1510.5,645.5 1511.0,644.8 1511.5,645.9 1512.0,647.7 1512.5,648.4 1513.0,648.9 1513.5,649.1 1514.0,649.5 1514.5,650.3 1515.0,651.0 1515.5,652.3 1516.0,653.0 1516.5,652.9 1517.0,652.9 1517.5,653.3 1518.0,654.3 1518.5,654.6 1519.0,654.5 1519.5,656.2 1519.7,655.9 1520.0,655.8 1520.5,655.6 1521.0,655.7 1521.5,656.5 1522.0,655.8 1522.5,656.3 1523.0,656.5 1523.5,657.1 1524.0,656.6 1524.5,656.5 1525.0,656.4 1525.5,656.9 1526.0,657.0 1526.5,656.6 1527.0,657.0 1527.2,656.8 1527.5,656.2 1528.0,656.4 1528.5,657.0 1529.0,657.2 1529.5,656.9 1530.0,656.5 1530.5,656.3 1531.0,656.8 1531.5,656.6 1532.0,655.9 1532.5,656.7 1533.0,656.2 1533.5,656.7 1534.0,656.6 1534.5,656.6 1535.0,656.7 1535.5,656.6 1536.0,655.9 1536.5,655.9 1537.0,656.7 1537.5,656.5 1538.0,655.7 1538.5,655.6 1539.0,656.7 1539.5,657.2 1540.0,656.7 1540.5,656.3 1541.0,656.5 1541.5,655.3 1542.0,656.0 1542.5,656.8 1543.0,656.7 1543.5,655.6 1544.0,656.9 1544.5,656.6 1545.0,656.8 1545.5,656.4 1546.0,656.5 1546.5,656.0 1547.0,656.6 1547.5,656.8 1548.0,656.1 1548.5,656.6 1549.0,656.3 1549.5,656.9 1550.0,656.9 1550.5,655.6 1551.0,656.7 1551.5,656.9 1552.0,656.3 1552.5,656.5 1553.0,656.5 1553.5,656.1 1554.0,656.5 1554.5,657.2 1555.0,656.8 1555.5,657.2 1556.0,657.0 1556.5,657.0 1557.0,656.7 1557.5,656.9 1558.0,657.4 1558.5,657.2 1559.0,656.8 1559.5,656.4 1560.0,656.3 1560.5,656.7 1561.0,656.8 1561.5,656.0 1562.0,656.8 1562.5,656.8 1563.0,656.8 1563.5,656.5 1564.0,657.5 1564.5,657.0 1565.0,656.2 1565.5,656.5 1566.0,657.0 1566.5,656.9 1567.0,656.8 1567.5,656.7 1568.0,656.7 1568.5,656.6 1569.0,656.4 1569.5,657.0 1570.0,655.8 1570.5,656.5 1571.0,657.2 1571.5,656.5 1572.0,656.4 1572.5,657.5 1573.0,657.2 1573.5,656.8 1574.0,656.6 1574.5,656.8 1575.0,656.7 1575.5,656.8 1576.0,656.6 1576.5,657.0 1577.0,656.7 1577.5,656.3 1578.0,656.4 1578.5,656.9 1579.0,656.5 1579.5,656.1 1580.0,657.4 1580.5,657.1 1581.0,656.8 1581.5,656.7 1582.0,657.1 1582.5,657.4 1583.0,656.7 1583.5,657.1 1584.0,656.7 1584.5,657.1 1585.0,656.6 1585.5,656.4 1586.0,657.0 1586.5,657.0 1587.0,657.2 1587.5,656.8 1588.0,657.5 1588.5,657.0 1589.0,657.5 1589.5,656.9 1590.0,657.5 1590.5,657.0 1591.0,657.1 1591.5,657.4 1592.0,656.5 1592.5,656.7 1593.0,657.7 1593.5,656.6 1594.0,656.9 1594.5,657.3 1595.0,657.6 1595.5,656.9 1596.0,657.2 1596.5,656.8 1597.0,657.0 1597.5,657.5 1598.0,657.3 1598.5,657.1 1599.0,657.3 1599.5,657.2 1600.0,657.2 1600.5,657.1 1601.0,656.9 1601.5,657.4 1602.0,656.8 1602.5,657.5 1603.0,657.9 1603.5,657.7 1604.0,657.9 1604.5,656.8 1605.0,657.3 1605.5,656.9 1606.0,656.9 1606.5,656.6 1607.0,656.8 1607.5,657.5 1608.0,657.4 1608.5,657.6 1609.0,657.5 1609.5,657.4 1610.0,656.9 1610.5,657.1 1611.0,657.4 1611.5,657.6 1612.0,657.0 1612.5,657.0 1613.0,657.0 1613.5,657.7 1614.0,657.4 1614.5,657.1 1615.0,656.9 1615.5,657.3 1616.0,656.6 1616.5,657.1 1617.0,657.0 1617.5,657.0 1618.0,657.2 1618.5,657.3 1619.0,658.2 1619.5,657.2 1620.0,657.4 1620.5,656.9 1621.0,656.6 1621.5,657.5 1622.0,657.8 1622.5,656.8 1623.0,657.1 1623.5,657.5 1624.0,657.2 1624.5,656.4 1625.0,657.5 1625.5,657.1 1626.0,657.4 1626.5,656.8 1627.0,657.4 1627.5,657.5 1628.0,656.9 1628.5,657.3 1629.0,656.9 1629.5,657.0 1630.0,656.8 1630.5,657.0 1631.0,656.9 1631.5,657.5 1632.0,657.1 1632.5,656.8 1633.0,657.6 1633.5,657.3 1634.0,657.5 1634.5,657.1 1635.0,657.4 1635.5,657.1 1636.0,656.8 1636.5,657.2 1637.0,657.2 1637.5,657.2 1638.0,657.4 1638.5,656.6 1639.0,657.2 1639.5,656.9 1640.0,657.0 1640.5,657.3 1641.0,657.1 1641.5,656.9 1642.0,657.4 1642.5,657.1 1643.0,657.4 1643.5,657.5 1644.0,657.0 1644.5,656.8 1645.0,657.2 1645.5,657.4 1646.0,657.2 1646.5,656.7 1647.0,656.6 1647.5,656.8 1648.0,656.8 1648.5,657.3 1649.0,657.1 1649.5,657.4 1650.0,657.1 1650.5,657.6 1651.0,657.1 1651.5,657.2 1652.0,656.9 1652.5,657.1 1653.0,657.3 1653.5,657.2 1654.0,657.3 1654.5,656.6 1655.0,657.0 1655.5,657.4 1656.0,656.8 1656.5,656.7 1657.0,656.6 1657.5,656.5 1658.0,656.7 1658.5,657.1 1659.0,656.7 1659.5,656.5 1660.0,656.2 1660.5,656.0 1661.0,657.3 1661.5,656.2 1662.0,656.4 1662.5,656.1 1663.0,656.4 1663.5,656.1 1664.0,656.3 1664.1,656.8 1664.5,655.7 1665.0,655.9 1665.5,655.3 1666.0,655.4 1666.5,654.4 1667.0,654.6 1667.5,653.7 1668.0,652.9 1668.5,652.8 1668.8,653.0 1669.0,652.2 1669.5,650.4 1670.0,649.0 1670.5,646.1 1670.7,646.1 1671.0,645.4 1671.5,644.0 1672.0,643.0 1672.5,643.2 1673.0,642.5 1673.3,641.2 1673.5,641.8 1674.0,642.6 1674.5,642.3 1675.0,644.1 1675.5,644.9 1676.0,646.6 1676.5,645.2 1677.0,646.2 1677.3,647.3 1677.5,647.1 1678.0,648.0 1678.5,649.0 1679.0,649.6 1679.5,650.5 1680.0,651.5 1680.5,651.2 1681.0,653.0 1681.5,652.6 1682.0,655.1 1682.5,654.9 1683.0,654.3 1683.5,655.2 1684.0,654.7 1684.5,655.1 1685.0,655.4 1685.5,655.3 1686.0,655.3 1686.5,655.7 1687.0,655.5 1687.5,655.5 1687.6,655.3 1688.0,654.9 1688.5,656.3 1689.0,655.9 1689.5,654.9 1690.0,655.7 1690.5,655.6 1691.0,654.5 1691.5,655.0 1692.0,655.3 1692.5,656.1 1693.0,655.8 1693.5,655.8 1694.0,655.4 1694.5,655.7 1695.0,654.6 1695.5,655.4 1696.0,655.4 1696.5,654.4 1697.0,655.1 1697.5,655.7 1698.0,655.9 1698.5,655.6 1699.0,654.5 1699.5,654.8 1700.0,654.5 1700.5,655.4 1700.8,654.3 1701.0,654.3 1701.5,654.2 1702.0,655.2 1702.5,655.4 1703.0,655.2 1703.5,655.3 1704.0,655.7 1704.5,656.4 1705.0,655.5 1705.5,656.2 1706.0,656.4 1706.5,656.7 1707.0,657.1 1707.5,657.1 1708.0,657.1 1708.5,657.6 1709.0,657.7 1709.5,657.6 1710.0,657.7 1710.5,657.4 1711.0,658.0 1711.2,657.8 1711.5,657.6 1712.0,657.6 1712.5,657.0 1713.0,657.0 1713.5,656.9 1714.0,656.9 1714.5,656.5 1715.0,656.5 1715.5,656.7 1716.0,656.3 1716.5,655.3 1717.0,654.8 1717.5,654.9 1717.7,654.8 1718.0,654.2 1718.5,654.1 1719.0,653.8 1719.5,654.1 1720.0,654.8 1720.5,654.8 1721.0,653.1 1721.5,653.2 1722.0,652.4 1722.5,652.1 1723.0,652.7 1723.5,652.5 1724.0,651.9 1724.5,652.4 1724.8,651.6 1725.0,652.6 1725.5,651.7 1726.0,652.7 1726.5,652.1 1727.0,652.4 1727.5,652.8 1728.0,651.8 1728.5,652.3 1729.0,652.8 1729.5,652.8 1730.0,653.2 1730.5,652.7 1730.9,652.6 1731.0,653.3 1731.5,653.9 1732.0,653.7 1732.5,655.0 1733.0,655.2 1733.5,655.6 1734.0,655.9 1734.5,655.7 1734.7,656.9 1735.0,655.9 1735.5,656.4 1736.0,656.5 1736.5,656.4 1737.0,656.4 1737.5,656.1 1738.0,656.3 1738.5,656.5 1739.0,656.9 1739.5,656.3 1740.0,656.8 1740.5,656.7 1741.0,656.6 1741.5,656.5 1742.0,656.6 1742.5,656.1 1743.0,656.8 1743.5,656.9 1744.0,656.6 1744.5,657.0 1745.0,657.0 1745.5,656.7 1746.0,657.2 1746.5,656.8 1747.0,657.8 1747.5,656.7 1748.0,656.8 1748.5,656.9 1748.8,657.2 1749.0,657.5 1749.5,657.0 1750.0,656.8 1750.5,657.5 1751.0,657.1 1751.5,656.6 1752.0,656.6 1752.5,656.0 1753.0,656.5 1753.5,657.0 1754.0,655.9 1754.5,655.7 1755.0,656.2 1755.5,655.1 1756.0,656.6 1756.5,655.3 1757.0,655.6 1757.5,655.7 1758.0,656.2 1758.5,655.8 1759.0,654.7 1759.5,654.7 1760.0,655.5 1760.5,654.3 1761.0,655.1 1761.5,653.9 1762.0,653.6 1762.5,652.8 1763.0,650.1 1763.5,650.5 1764.0,649.6 1764.5,647.9 1764.8,647.4 1765.0,646.5 1765.5,645.6 1766.0,644.6 1766.5,643.8 1767.0,642.6 1767.5,640.1 1768.0,638.4 1768.5,638.3 1768.6,635.3 1769.0,634.9 1769.5,634.6 1770.0,634.0 1770.5,630.0 1771.0,628.9 1771.5,626.2 1771.8,626.0 1772.0,624.1 1772.5,619.1 1772.8,616.9 1773.0,616.0 1773.5,616.0 1774.0,614.3 1774.5,612.2 1775.0,613.0 1775.1,613.8 1775.5,611.7 1776.0,615.0 1776.5,613.5 1777.0,612.0 1777.5,612.7 1778.0,611.9 1778.5,611.7 1779.0,614.3 1779.5,614.3 1780.0,611.9 1780.5,612.4 1780.8,612.4 1781.0,614.1 1781.5,616.5 1782.0,616.4 1782.5,619.0 1782.7,619.5 1783.0,621.0 1783.5,623.4 1784.0,623.1 1784.5,623.9 1785.0,627.1 1785.5,627.7 1786.0,631.8 1786.5,631.8 1787.0,633.7 1787.5,635.8 1788.0,637.4 1788.3,638.0 1788.5,638.7 1789.0,640.4 1789.5,640.4 1790.0,643.0 1790.5,642.9 1791.0,642.0 1791.5,645.2 1792.0,644.5 1792.1,646.0 1792.5,647.9 1793.0,647.8 1793.5,647.1 1794.0,648.0 1794.5,649.2 1795.0,650.7 1795.5,650.2 1796.0,651.9 1796.5,652.1 1796.8,652.4 1797.0,652.5 1797.5,653.9 1798.0,652.7 1798.5,653.3 1799.0,654.7 1799.5,655.1 1800.0,654.6 1800.5,655.2 1801.0,655.5 1801.5,656.5 1802.0,656.6 1802.4,657.5 1802.5,657.3 1803.0,657.2 1803.5,657.1 1804.0,657.2 1804.5,657.3 1805.0,657.0 1805.5,657.1 1806.0,657.2 1806.5,657.0 1807.0,657.3 1807.5,656.9 1808.0,656.7 1808.5,657.0 1809.0,657.4 1809.5,657.4 1810.0,656.3 1810.5,656.9 1811.0,656.7 1811.5,656.7 1812.0,656.7 1812.5,656.7 1813.0,656.6 1813.5,656.6 1814.0,656.8 1814.5,656.3 1815.0,656.3 1815.5,656.3 1816.0,656.3 1816.5,656.9 1817.0,656.2 1817.5,656.6 1818.0,656.6 1818.5,656.8 1819.0,656.6 1819.5,656.9 1820.0,656.5 1820.5,656.6 1821.0,656.8 1821.5,655.9 1822.0,656.6 1822.5,657.0 1823.0,656.5 1823.5,656.3 1824.0,657.1 1824.5,656.4 1825.0,656.8 1825.5,655.4 1826.0,656.4 1826.5,656.1 1827.0,656.4 1827.5,656.7 1828.0,656.2 1828.5,656.2 1829.0,655.1 1829.5,656.5 1830.0,656.7 1830.5,656.3 1831.0,656.1 1831.5,656.4 1832.0,656.7 1832.5,656.5 1833.0,657.1 1833.5,656.1 1834.0,655.8 1834.5,656.6 1835.0,656.9 1835.5,656.2 1836.0,656.4 1836.5,656.2 1837.0,656.0 1837.5,656.2 1838.0,655.7 1838.5,656.6 1839.0,656.7 1839.5,656.9 1840.0,656.3 1840.5,656.4 1841.0,656.0 1841.5,656.1 1842.0,657.0 1842.5,657.7 1843.0,656.3 1843.5,656.6 1844.0,657.0 1844.5,656.5 1845.0,657.0 1845.5,656.7 1846.0,656.7 1846.5,657.1 1847.0,656.8 1847.5,656.4 1848.0,657.2 1848.5,656.9 1849.0,656.7 1849.5,656.7 1850.0,657.1 1850.5,656.7 1851.0,657.0 1851.5,657.3 1852.0,657.0 1852.5,657.4 1853.0,656.6 1853.5,657.3 1854.0,657.3 1854.5,657.7 1855.0,657.2 1855.5,657.4 1856.0,657.1 1856.5,656.9 1857.0,656.9 1857.5,657.0 1858.0,657.5 1858.5,657.0 1859.0,657.3"/>
<path stroke="#0000ff" d="M123.0,1121.0 123.5,1121.4 124.0,1120.1 124.5,1118.6 125.0,1119.4 125.5,1118.0 126.0,1120.1 126.5,1121.9 127.0,1117.5 127.5,1116.3 128.0,1118.2 128.5,1117.2 129.0,1115.9 129.5,1113.8 130.0,1116.8 130.5,1119.2 131.0,1115.3 131.5,1118.0 132.0,1116.0 132.5,1118.1 133.0,1117.8 133.5,1120.7 134.0,1118.8 134.5,1121.8 135.0,1121.7 135.5,1121.2 136.0,1117.4 136.5,1120.9 137.0,1121.8 137.5,1122.1 138.0,1119.7 138.5,1121.5 139.0,1120.8 139.5,1121.2 140.0,1124.2 140.5,1121.2 141.0,1122.4 141.5,1123.9 142.0,1121.6 142.5,1122.3 143.0,1122.7 143.5,1122.6 144.0,1120.5 144.5,1122.6 145.0,1124.7 145.5,1120.0 146.0,1123.9 146.5,1122.7 147.0,1121.5 147.5,1125.7 148.0,1123.7 148.5,1120.6 149.0,1122.6 149.5,1123.4 150.0,1122.2 150.5,1123.6 151.0,1122.4 151.5,1123.6 152.0,1124.8 152.5,1121.4 153.0,1122.8 153.5,1121.8 154.0,1122.7 154.5,1120.6 155.0,1121.6 155.5,1122.2 156.0,1123.9 156.5,1124.3 157.0,1120.4 157.5,1121.2 158.0,1123.5 158.5,1119.3 159.0,1121.8 159.5,1122.3 160.0,1124.5 160.5,1123.5 161.0,1121.9 161.5,1121.7 162.0,1121.9 162.5,1124.6 163.0,1121.5 163.5,1121.6 164.0,1122.5 164.5,1121.7 165.0,1121.6 165.5,1120.0 166.0,1121.7 166.5,1120.9 167.0,1123.6 167.5,1122.7 168.0,1121.5 168.5,1122.7 169.0,1120.7 169.5,1123.3 170.0,1121.2 170.5,1122.3 171.0,1118.6 171.5,1121.7 172.0,1117.5 172.5,1116.9 173.0,1120.5 173.5,1119.3 174.0,1121.5 174.5,1125.6 175.0,1119.6 175.5,1120.1 176.0,1121.7 176.5,1122.3 177.0,1121.1 177.5,1121.0 178.0,1122.7 178.5,1122.4 179.0,1119.7 179.5,1121.4 180.0,1121.7 180.5,1119.8 181.0,1122.1 181.5,1120.3 182.0,1123.4 182.5,1122.1 183.0,1122.0 183.5,1120.9 184.0,1121.7 184.5,1118.8 185.0,1120.2 185.5,1122.6 186.0,1118.8 186.5,1123.5 187.0,1119.5 187.5,1123.4 188.0,1121.0 188.5,1123.6 189.0,1122.6 189.5,1120.1 190.0,1124.4 190.5,1124.8 191.0,1122.5 191.5,1122.2 192.0,1122.5 192.5,1121.2 193.0,1124.5 193.5,1122.0 194.0,1122.8 194.5,1121.7 195.0,1122.0 195.5,1121.1 196.0,1125.1 196.5,1122.9 197.0,1124.7 197.5,1123.3 198.0,1122.2 198.5,1122.8 199.0,1122.5 199.5,1123.5 200.0,1122.9 200.5,1123.1 201.0,1121.4 201.5,1122.3 202.0,1126.2 202.5,1122.6 203.0,1122.0 203.5,1124.2 204.0,1125.9 204.5,1121.5 205.0,1123.5 205.5,1122.8 206.0,1121.1 206.5,1125.0 207.0,1123.9 207.5,1124.0 208.0,1122.8 208.5,1124.7 209.0,1123.2 209.5,1123.8 210.0,1122.3 210.5,1122.2 211.0,1126.2 211.5,1123.4 212.0,1124.6 212.5,1124.2 213.0,1123.5 213.5,1123.5 214.0,1125.3 214.5,1123.8 215.0,1124.1 215.5,1124.3 216.0,1126.2 216.5,1125.4 217.0,1124.9 217.5,1123.4 218.0,1122.1 218.5,1125.8 219.0,1125.8 219.5,1124.1 220.0,1125.2 220.5,1125.6 221.0,1125.6 221.5,1125.8 222.0,1123.6 222.5,1126.7 223.0,1122.3 223.5,1125.7 224.0,1125.1 224.5,1125.7 225.0,1127.3 225.5,1126.7 226.0,1122.5 226.5,1121.6 227.0,1125.6 227.5,1122.7 228.0,1124.3 228.5,1125.6 229.0,1121.7 229.5,1120.9 230.0,1124.7 230.5,1124.4 231.0,1123.9 231.5,1124.4 232.0,1122.9 232.5,1121.9 233.0,1124.0 233.5,1122.7 234.0,1121.7 234.5,1125.1 235.0,1124.2 235.5,1125.0 236.0,1122.7 236.5,1123.2 237.0,1122.7 237.5,1122.9 238.0,1124.6 238.5,1123.0 239.0,1124.9 239.5,1124.8 240.0,1127.5 240.5,1122.1 241.0,1125.7 241.5,1124.2 242.0,1124.3 242.5,1122.0 243.0,1123.6 243.5,1125.5 244.0,1124.2 244.5,1124.4 245.0,1123.8 245.5,1126.1 246.0,1124.3 246.5,1120.8 247.0,1123.2 247.5,1121.1 248.0,1119.1 248.5,1123.5 249.0,1126.4 249.5,1124.4 250.0,1122.4 250.5,1122.8 251.0,1126.1 251.5,1124.6 252.0,1124.4 252.5,1124.2 253.0,1124.4 253.5,1125.6 254.0,1125.2 254.5,1124.6 255.0,1122.6 255.5,1125.1 256.0,1123.2 256.5,1126.1 257.0,1122.3 257.5,1124.1 258.0,1124.3 258.5,1122.2 259.0,1127.1 259.5,1126.6 260.0,1123.6 260.5,1125.5 261.0,1124.9 261.5,1120.1 262.0,1124.7 262.5,1124.2 263.0,1124.4 263.5,1122.6 264.0,1123.9 264.5,1124.0 265.0,1126.2 265.5,1124.8 266.0,1124.3 266.5,1126.7 267.0,1123.4 267.5,1123.7 268.0,1121.4 268.5,1126.8 269.0,1125.8 269.5,1125.5 270.0,1125.0 270.5,1124.0 271.0,1124.0 271.5,1123.2 272.0,1123.1 272.5,1123.4 273.0,1125.4 273.5,1123.8 274.0,1122.8 274.5,1121.9 275.0,1121.6 275.5,1124.8 276.0,1123.0 276.5,1122.2 277.0,1121.5 277.5,1120.2 278.0,1121.8 278.5,1123.3 279.0,1121.1 279.5,1121.3 280.0,1121.2 280.5,1121.8 281.0,1118.6 281.5,1121.0 282.0,1119.8 282.5,1123.0 283.0,1119.8 283.5,1122.3 284.0,1124.1 284.5,1120.4 285.0,1119.8 285.5,1121.4 286.0,1121.0 286.5,1119.0 287.0,1122.0 287.5,1125.1 288.0,1120.6 288.5,1120.7 289.0,1119.1 289.5,1121.8 290.0,1118.7 290.5,1119.0 291.0,1123.7 291.5,1119.4 292.0,1123.3 292.5,1124.2 293.0,1121.8 293.5,1122.4 294.0,1125.1 294.5,1120.9 295.0,1120.2 295.5,1118.8 296.0,1121.4 296.5,1124.2 297.0,1123.2 297.5,1119.7 298.0,1119.8 298.5,1120.5 299.0,1122.0 299.5,1121.1 300.0,1121.9 300.5,1122.1 301.0,1121.0 301.5,1121.5 302.0,1121.9 302.5,1121.4 303.0,1122.5 303.5,1124.9 304.0,1122.6 304.5,1121.7 305.0,1118.6 305.5,1122.3 306.0,1118.2 306.5,1119.1 307.0,1123.2 307.5,1122.9 308.0,1121.4 308.5,1118.7 309.0,1121.0 309.5,1120.5 310.0,1122.8 310.5,1125.6 311.0,1122.1 311.5,1120.4 312.0,1119.7 312.5,1121.7 313.0,1121.5 313.5,1119.8 314.0,1122.0 314.5,1119.9 315.0,1123.7 315.5,1123.6 316.0,1123.7 316.5,1121.1 317.0,1122.7 317.5,1121.6 318.0,1121.2 318.5,1121.3 319.0,1119.8 319.5,1119.5 320.0,1123.2 320.5,1121.6 321.0,1122.3 321.5,1123.6 322.0,1119.2 322.5,1120.7 323.0,1122.3 323.5,1122.6 324.0,1121.4 324.5,1123.7 325.0,1122.4 325.5,1120.2 326.0,1120.7 326.5,1123.4 327.0,1122.9 327.5,1119.2 328.0,1124.4 328.5,1123.2 329.0,1124.4 329.5,1121.7 330.0,1121.9 330.5,1120.6 331.0,1126.4 331.5,1122.2 332.0,1125.0 332.5,1121.5 333.0,1122.8 333.5,1120.0 334.0,1122.0 334.5,1124.2 335.0,1120.7 335.5,1124.4 336.0,1123.3 336.5,1121.1 337.0,1122.0 337.5,1122.1 338.0,1122.8 338.5,1122.1 339.0,1121.6 339.5,1122.5 340.0,1121.4 340.5,1120.9 341.0,1122.9 341.5,1124.4 342.0,1120.6 342.5,1123.0 343.0,1122.0 343.5,1121.4 344.0,1124.4 344.5,1122.2 345.0,1125.4 345.5,1121.8 346.0,1123.6 346.5,1122.6 347.0,1121.8 347.5,1123.9 348.0,1122.8 348.5,1124.0 349.0,1122.9 349.5,1121.3 350.0,1122.8 350.5,1123.1 351.0,1124.5 351.5,1121.6 352.0,1122.9 352.5,1120.3 353.0,1124.0 353.5,1121.3 354.0,1120.1 354.5,1122.9 355.0,1124.8 355.5,1120.6 356.0,1121.3 356.5,1121.8 357.0,1121.2 357.5,1123.6 358.0,1121.7 358.5,1121.9 359.0,1123.9 359.5,1121.8 360.0,1123.7 360.5,1121.5 361.0,1121.1 361.5,1120.1 362.0,1125.9 362.5,1122.5 363.0,1123.4 363.5,1123.0 364.0,1123.3 364.5,1123.1 365.0,1125.9 365.5,1121.3 366.0,1120.5 366.5,1121.2 367.0,1120.6 367.5,1123.6 368.0,1123.6 368.5,1120.8 369.0,1120.0 369.5,1121.5 370.0,1124.0 370.5,1117.3 371.0,1122.5 371.5,1119.7 372.0,1123.2 372.5,1119.4 373.0,1120.7 373.5,1118.3 374.0,1119.3 374.5,1122.9 375.0,1121.6 375.5,1118.7 376.0,1117.1 376.5,1114.2 377.0,1117.1 377.5,1117.4 378.0,1116.8 378.5,1116.3 379.0,1113.0 379.5,1115.5 380.0,1115.1 380.5,1118.4 381.0,1119.6 381.5,1113.5 381.9,1111.1 382.0,1113.4 382.5,1112.3 383.0,1112.3 383.5,1114.7 384.0,1112.3 384.5,1117.4 385.0,1115.9 385.5,1117.2 386.0,1116.5 386.5,1115.5 387.0,1115.4 387.5,1117.6 388.0,1117.3 388.5,1119.4 389.0,1119.2 389.5,1116.9 390.0,1120.1 390.5,1118.0 391.0,1119.7 391.5,1120.7 392.0,1118.4 392.5,1121.7 393.0,1121.9 393.5,1121.6 394.0,1121.3 394.5,1121.5 395.0,1120.8 395.5,1121.8 396.0,1121.5 396.5,1122.5 397.0,1120.9 397.5,1122.8 398.0,1122.8 398.5,1122.5 399.0,1122.2 399.5,1123.6 400.0,1120.8 400.5,1123.6 401.0,1123.3 401.5,1123.3 402.0,1123.5 402.5,1122.1 403.0,1122.6 403.5,1123.8 404.0,1123.5 404.5,1123.2 405.0,1121.1 405.5,1123.6 406.0,1124.4 406.5,1124.1 407.0,1123.2 407.5,1121.0 408.0,1124.0 408.5,1122.7 409.0,1119.9 409.5,1123.3 410.0,1121.2 410.5,1121.4 411.0,1122.1 411.5,1124.3 412.0,1122.4 412.5,1123.1 413.0,1124.7 413.5,1124.6 414.0,1122.7 414.5,1122.6 415.0,1121.5 415.5,1122.1 416.0,1123.2 416.5,1123.2 417.0,1122.9 417.5,1123.8 418.0,1122.0 418.5,1122.7 419.0,1123.5 419.5,1123.3 420.0,1123.8 420.5,1123.1 421.0,1122.4 421.5,1123.1 422.0,1121.8 422.5,1121.2 423.0,1123.2 423.5,1122.7 424.0,1123.0 424.5,1121.2 425.0,1122.4 425.5,1122.1 426.0,1121.9 426.5,1120.7 427.0,1122.4 427.5,1123.4 428.0,1123.0 428.5,1122.1 429.0,1122.6 429.5,1123.3 430.0,1120.3 430.5,1122.5 431.0,1123.1 431.5,1123.2 432.0,1124.0 432.5,1123.5 433.0,1122.8 433.5,1122.8 434.0,1123.2 434.5,1122.1 435.0,1122.5 435.5,1123.3 436.0,1124.1 436.5,1122.4 437.0,1122.5 437.5,1122.7 438.0,1123.6 438.5,1122.5 439.0,1123.6 439.5,1121.8 440.0,1122.4 440.5,1122.4 441.0,1123.1 441.5,1123.3 442.0,1121.4 442.5,1121.8 443.0,1122.8 443.5,1122.0 444.0,1121.4 444.5,1123.3 445.0,1122.9 445.5,1122.9 446.0,1122.2 446.5,1123.3 447.0,1122.4 447.5,1123.4 448.0,1121.9 448.5,1121.9 449.0,1122.7 449.5,1122.1 450.0,1123.1 450.5,1122.8 451.0,1121.9 451.5,1122.6 452.0,1122.3 452.5,1123.3 453.0,1122.1 453.5,1122.3 454.0,1123.5 454.5,1124.2 455.0,1124.1 455.5,1122.7 456.0,1122.8 456.5,1123.7 457.0,1122.5 457.5,1121.9 458.0,1122.7 458.5,1123.0 459.0,1122.1 459.5,1121.5 460.0,1121.6 460.5,1123.1 461.0,1122.1 461.5,1122.6 462.0,1122.8 462.5,1123.1 463.0,1122.4 463.5,1123.0 464.0,1122.0 464.5,1122.4 465.0,1122.0 465.5,1123.5 466.0,1122.7 466.5,1122.2 467.0,1122.5 467.5,1122.5 468.0,1123.2 468.5,1121.6 469.0,1122.0 469.5,1122.5 470.0,1124.5 470.5,1123.4 471.0,1122.7 471.5,1123.2 472.0,1124.2 472.5,1122.6 473.0,1122.5 473.5,1123.6 474.0,1123.1 474.5,1123.2 475.0,1122.4 475.5,1124.1 476.0,1124.0 476.5,1123.2 477.0,1123.3 477.5,1121.4 478.0,1123.2 478.5,1122.7 479.0,1123.1 479.5,1123.3 480.0,1122.6 480.5,1121.6 481.0,1123.1 481.5,1122.4 482.0,1122.7 482.5,1122.5 483.0,1122.7 483.5,1121.4 484.0,1123.8 484.5,1123.2 485.0,1123.8 485.5,1124.4 486.0,1123.1 486.5,1121.8 487.0,1122.5 487.5,1122.3 488.0,1122.8 488.5,1123.2 489.0,1121.8 489.5,1123.5 490.0,1122.2 490.5,1123.5 491.0,1123.2 491.5,1123.1 492.0,1123.3 492.5,1123.0 493.0,1123.0 493.5,1122.2 494.0,1123.4 494.5,1124.7 495.0,1124.8 495.5,1124.4 496.0,1124.0 496.5,1123.1 497.0,1124.6 497.5,1123.5 498.0,1123.6 498.5,1123.4 499.0,1123.7 499.5,1123.4 500.0,1123.6 500.5,1122.7 501.0,1122.7 501.5,1123.9 502.0,1122.1 502.5,1121.7 503.0,1121.8 503.3,1121.8 503.5,1120.3 504.0,1121.2 504.5,1122.2 505.0,1121.8 505.5,1121.8 506.0,1122.9 506.5,1121.5 507.0,1122.1 507.5,1121.8 508.0,1123.3 508.4,1121.1 508.5,1121.9 509.0,1121.8 509.5,1122.3 510.0,1122.0 510.5,1122.4 511.0,1119.9 511.5,1121.5 512.0,1120.3 512.5,1119.7 513.0,1120.6 513.4,1119.0 513.5,1117.7 514.0,1119.4 514.5,1118.1 515.0,1118.9 515.5,1119.9 516.0,1119.7 516.5,1121.0 517.0,1118.9 517.5,1117.3 518.0,1118.1 518.5,1117.8 519.0,1117.3 519.2,1119.0 519.5,1116.4 520.0,1112.2 520.5,1110.9 520.9,1107.7 521.0,1108.1 521.5,1106.5 522.0,1106.0 522.5,1103.9 522.6,1105.6 523.0,1103.8 523.5,1102.9 524.0,1102.2 524.5,1097.8 524.9,1100.0 525.0,1088.5 525.3,1054.1 525.5,1050.6 526.0,1048.6 526.2,1045.1 526.5,1042.2 526.6,1042.2 527.0,1046.8 527.3,1049.9 527.5,1050.8 527.8,1054.0 528.0,1069.9 528.4,1102.2 528.5,1103.6 529.0,1113.2 529.5,1122.7 529.6,1124.9 530.0,1123.7 530.5,1123.8 531.0,1123.4 531.5,1124.2 532.0,1122.8 532.5,1123.0 533.0,1123.1 533.4,1122.3 533.5,1122.3 534.0,1122.6 534.5,1121.4 535.0,1121.8 535.5,1122.4 536.0,1122.7 536.5,1122.4 537.0,1121.3 537.5,1122.1 538.0,1122.8 538.5,1122.6 539.0,1122.1 539.5,1121.5 540.0,1122.4 540.5,1121.5 541.0,1120.9 541.5,1121.0 542.0,1122.5 542.5,1121.5 543.0,1122.1 543.5,1120.6 544.0,1121.7 544.5,1120.2 545.0,1120.4 545.2,1122.9 545.5,1121.3 546.0,1120.7 546.5,1121.4 547.0,1122.0 547.5,1122.8 548.0,1122.2 548.5,1121.8 549.0,1123.0 549.5,1123.5 550.0,1123.9 550.2,1124.9 550.5,1123.9 551.0,1123.7 551.5,1122.2 552.0,1122.9 552.5,1123.2 553.0,1122.0 553.5,1121.2 554.0,1120.7 554.3,1121.9 554.5,1119.4 555.0,1120.1 555.5,1120.6 556.0,1120.8 556.5,1119.5 557.0,1120.3 557.5,1119.6 558.0,1119.9 558.5,1119.6 559.0,1118.4 559.5,1119.6 560.0,1120.5 560.2,1118.5 560.5,1119.7 561.0,1121.0 561.5,1120.5 562.0,1122.0 562.5,1122.0 563.0,1123.9 563.5,1124.8 564.0,1124.7 564.5,1123.3 565.0,1124.0 565.5,1123.6 566.0,1123.7 566.5,1124.7 567.0,1122.8 567.5,1124.5 568.0,1123.8 568.5,1124.9 569.0,1124.1 569.5,1123.4 570.0,1123.8 570.5,1123.9 571.0,1123.2 571.5,1123.3 572.0,1122.5 572.5,1121.2 573.0,1123.0 573.5,1122.6 574.0,1122.1 574.5,1121.8 575.0,1122.3 575.5,1121.0 576.0,1120.6 576.5,1120.8 576.9,1121.9 577.0,1119.6 577.5,1122.0 578.0,1120.4 578.5,1120.2 579.0,1122.2 579.5,1121.2 580.0,1120.3 580.5,1121.2 581.0,1122.2 581.5,1122.5 582.0,1121.4 582.5,1122.1 583.0,1122.4 583.5,1121.5 583.6,1122.2 584.0,1121.9 584.5,1121.4 585.0,1121.4 585.5,1121.7 586.0,1121.5 586.5,1121.0 587.0,1121.0 587.5,1122.1 588.0,1121.3 588.5,1121.8 589.0,1122.0 589.5,1121.3 590.0,1122.8 590.5,1119.8 591.0,1121.3 591.5,1120.1 592.0,1121.7 592.5,1120.4 593.0,1116.3 593.5,1115.9 594.0,1116.4 594.5,1115.4 594.9,1114.6 595.0,1113.4 595.5,1113.5 596.0,1113.1 596.5,1111.4 597.0,1112.5 597.5,1106.7 598.0,1110.7 598.5,1108.0 599.0,1111.2 599.5,1109.8 600.0,1109.4 600.5,1111.9 601.0,1110.6 601.5,1111.2 602.0,1110.9 602.4,1113.6 602.5,1114.4 603.0,1116.6 603.5,1117.5 604.0,1120.0 604.5,1121.2 605.0,1121.3 605.5,1122.0 606.0,1122.5 606.5,1121.7 607.0,1121.9 607.5,1122.2 608.0,1122.5 608.5,1122.0 609.0,1123.5 609.5,1122.7 610.0,1123.5 610.4,1122.7 610.5,1123.6 611.0,1123.6 611.5,1123.0 612.0,1124.7 612.5,1123.6 613.0,1124.5 613.5,1124.0 614.0,1122.8 614.5,1123.0 615.0,1123.6 615.5,1123.3 616.0,1123.3 616.2,1123.1 616.5,1122.0 617.0,1122.8 617.5,1121.3 618.0,1122.6 618.5,1121.7 619.0,1121.4 619.5,1121.5 620.0,1121.6 620.5,1120.0 621.0,1119.4 621.5,1119.7 622.0,1118.5 622.1,1119.4 622.5,1121.3 623.0,1118.4 623.5,1119.5 624.0,1117.0 624.5,1118.2 625.0,1117.0 625.4,1116.9 625.5,1117.4 626.0,1118.0 626.5,1115.5 627.0,1114.7 627.5,1112.5 628.0,1113.7 628.5,1111.8 628.6,1113.0 629.0,1109.9 629.5,1109.1 630.0,1102.6 630.5,1101.8 630.7,1101.9 631.0,1097.3 631.5,1091.0 631.9,1086.5 632.0,1084.5 632.5,1085.9 633.0,1092.0 633.1,1088.9 633.5,1089.8 634.0,1095.0 634.5,1100.3 634.8,1104.5 635.0,1103.7 635.5,1106.4 636.0,1110.5 636.5,1112.9 637.0,1114.4 637.3,1115.2 637.5,1114.9 638.0,1116.7 638.5,1116.2 639.0,1119.8 639.5,1119.5 640.0,1121.2 640.5,1122.7 641.0,1123.2 641.5,1122.9 642.0,1124.8 642.1,1125.1 642.5,1123.9 643.0,1123.5 643.5,1123.8 644.0,1122.7 644.5,1124.4 645.0,1121.7 645.5,1122.3 646.0,1122.6 646.5,1122.5 647.0,1122.5 647.5,1122.3 648.0,1121.8 648.5,1122.5 648.8,1120.0 649.0,1121.6 649.5,1121.1 650.0,1121.8 650.5,1121.9 651.0,1121.1 651.5,1121.3 652.0,1122.4 652.5,1122.1 653.0,1121.4 653.5,1123.4 654.0,1123.6 654.5,1121.0 655.0,1122.3 655.5,1123.8 656.0,1122.7 656.5,1122.3 657.0,1122.0 657.5,1121.8 658.0,1122.1 658.5,1121.9 659.0,1122.8 659.5,1122.1 660.0,1122.1 660.5,1121.5 661.0,1122.3 661.5,1121.7 662.0,1122.1 662.5,1122.9 663.0,1122.4 663.5,1122.5 664.0,1122.3 664.5,1122.1 665.0,1121.9 665.5,1121.8 666.0,1122.5 666.5,1121.1 667.0,1122.8 667.5,1121.9 668.0,1121.2 668.5,1121.4 669.0,1121.2 669.5,1121.8 670.0,1121.1 670.5,1122.5 671.0,1121.0 671.5,1119.7 672.0,1120.9 672.5,1119.8 673.0,1121.4 673.5,1122.2 674.0,1121.9 674.5,1120.2 675.0,1120.6 675.5,1122.7 676.0,1121.5 676.5,1121.2 677.0,1122.0 677.5,1123.2 678.0,1122.2 678.5,1121.1 679.0,1121.4 679.5,1121.6 680.0,1120.6 680.5,1120.3 681.0,1121.3 681.5,1120.5 682.0,1121.3 682.5,1121.5 683.0,1123.3 683.5,1120.8 684.0,1121.5 684.5,1121.5 685.0,1122.0 685.5,1122.5 686.0,1121.4 686.5,1121.2 687.0,1120.7 687.5,1121.3 688.0,1122.3 688.5,1122.1 689.0,1121.4 689.5,1121.9 690.0,1122.2 690.5,1122.6 691.0,1121.9 691.5,1122.2 692.0,1121.1 692.5,1121.6 693.0,1123.6 693.5,1121.0 694.0,1122.4 694.5,1122.8 695.0,1122.4 695.5,1122.2 696.0,1122.7 696.5,1122.8 697.0,1122.8 697.5,1121.7 698.0,1122.9 698.5,1122.5 699.0,1122.7 699.5,1123.3 700.0,1123.6 700.5,1123.8 701.0,1122.9 701.5,1123.8 702.0,1124.0 702.5,1124.0 703.0,1124.2 703.5,1123.1 704.0,1123.1 704.5,1123.8 705.0,1122.2 705.5,1123.3 706.0,1122.8 706.5,1122.9 707.0,1122.0 707.5,1122.6 708.0,1123.2 708.5,1123.8 709.0,1123.9 709.5,1123.1 710.0,1123.1 710.5,1122.6 711.0,1123.5 711.5,1123.0 712.0,1123.6 712.5,1124.4 713.0,1123.2 713.5,1122.2 714.0,1122.6 714.5,1122.2 715.0,1122.4 715.5,1124.1 716.0,1123.4 716.1,1122.2 716.5,1123.3 717.0,1123.4 717.5,1122.1 718.0,1121.5 718.5,1121.4 719.0,1121.5 719.5,1121.4 720.0,1121.6 720.5,1121.3 720.9,1121.2 721.0,1121.3 721.5,1121.0 722.0,1119.5 722.5,1120.9 723.0,1121.6 723.5,1121.4 724.0,1122.6 724.5,1122.1 725.0,1122.1 725.5,1123.9 725.8,1123.6 726.0,1122.8 726.5,1122.1 727.0,1121.1 727.5,1119.6 728.0,1116.1 728.5,1116.4 729.0,1115.4 729.5,1113.8 730.0,1114.1 730.5,1114.4 731.0,1111.3 731.5,1109.4 732.0,1112.7 732.2,1108.6 732.5,1108.6 733.0,1111.7 733.5,1113.1 734.0,1112.9 734.5,1115.7 735.0,1115.6 735.5,1116.4 736.0,1118.5 736.3,1119.8 736.5,1118.7 737.0,1120.1 737.5,1120.2 738.0,1122.9 738.5,1120.9 739.0,1122.7 739.5,1122.3 740.0,1122.8 740.5,1123.8 741.0,1124.4 741.5,1125.1 742.0,1125.1 742.5,1125.1 742.7,1125.3 743.0,1125.8 743.5,1125.6 744.0,1125.9 744.5,1125.1 745.0,1125.3 745.5,1125.4 746.0,1124.3 746.5,1123.0 747.0,1123.0 747.5,1122.6 748.0,1124.3 748.3,1122.6 748.5,1124.1 749.0,1123.9 749.5,1124.8 750.0,1124.6 750.5,1124.1 751.0,1124.2 751.5,1124.6 752.0,1124.9 752.5,1124.6 753.0,1125.2 753.5,1126.4 754.0,1124.5 754.5,1125.2 755.0,1123.9 755.5,1124.0 756.0,1123.7 756.5,1122.7 757.0,1122.5 757.5,1120.6 758.0,1121.7 758.5,1119.9 759.0,1120.3 759.5,1119.4 759.6,1116.8 760.0,1117.5 760.5,1117.1 761.0,1117.3 761.5,1114.8 762.0,1113.6 762.5,1110.4 763.0,1112.8 763.5,1112.1 763.6,1109.5 764.0,1107.1 764.5,1102.9 765.0,1102.9 765.1,1103.7 765.5,1093.0 765.6,1029.0 766.0,1028.7 766.5,1024.1 766.8,1025.0 766.9,924.2 767.0,923.3 767.5,921.2 768.0,919.2 768.2,918.0 768.5,920.3 769.0,924.3 769.5,928.9 769.7,932.2 769.9,970.8 770.0,970.6 770.5,975.7 771.0,981.5 771.5,985.1 771.8,987.0 772.0,986.1 772.5,988.4 773.0,987.5 773.5,989.3 774.0,980.7 774.5,981.0 775.0,982.8 775.5,979.1 775.7,978.5 776.0,985.4 776.5,992.9 776.7,995.9 777.0,999.7 777.5,1007.7 778.0,1014.4 778.5,1019.7 779.0,1026.8 779.1,1029.3 779.5,1034.7 780.0,1040.5 780.5,1048.2 781.0,1054.9 781.5,1059.5 782.0,1065.4 782.5,1070.8 783.0,1074.5 783.5,1077.5 784.0,1084.1 784.1,1086.2 784.5,1089.8 785.0,1082.0 785.5,1094.0 786.0,1086.5 786.5,1092.2 787.0,1093.7 787.5,1094.1 788.0,1093.4 788.5,1091.6 789.0,1096.3 789.5,1094.6 790.0,1092.0 790.2,1103.2 790.5,1099.3 791.0,1102.4 791.5,1096.9 792.0,1102.7 792.5,1103.5 793.0,1103.9 793.5,1101.1 794.0,1099.3 794.5,1102.0 795.0,1098.5 795.1,1100.0 795.5,1104.9 796.0,1106.0 796.5,1109.2 797.0,1111.5 797.5,1115.5 798.0,1117.1 798.3,1117.5 798.5,1119.0 799.0,1118.3 799.5,1119.7 800.0,1121.5 800.5,1121.4 801.0,1122.9 801.5,1123.2 802.0,1123.7 802.5,1124.3 803.0,1122.5 803.5,1122.8 804.0,1121.8 804.5,1121.3 805.0,1120.8 805.5,1122.4 806.0,1122.8 806.3,1121.1 806.5,1119.9 807.0,1120.1 807.5,1118.3 808.0,1118.4 808.5,1117.0 809.0,1116.1 809.5,1115.6 810.0,1113.3 810.5,1112.6 811.0,1109.9 811.5,1110.6 812.0,1107.7 812.5,1110.4 813.0,1109.4 813.5,1111.5 814.0,1112.5 814.5,1109.8 815.0,1111.1 815.5,1111.3 816.0,1114.3 816.5,1116.1 817.0,1115.2 817.5,1113.7 817.6,1116.5 818.0,1111.7 818.5,1116.9 819.0,1113.2 819.5,1109.5 820.0,1118.9 820.5,1117.0 821.0,1112.5 821.5,1114.6 822.0,1113.9 822.5,1114.4 823.0,1111.5 823.5,1111.4 824.0,1111.9 824.5,1110.6 825.0,1111.0 825.5,1108.4 826.0,1110.8 826.5,1105.1 827.0,1105.6 827.5,1102.0 828.0,1102.0 828.1,1105.8 828.5,1103.0 829.0,1106.6 829.5,1107.4 830.0,1107.9 830.5,1110.3 831.0,1111.8 831.5,1113.5 832.0,1116.2 832.1,1116.5 832.5,1115.8 833.0,1116.1 833.5,1118.0 834.0,1118.3 834.5,1120.0 835.0,1122.0 835.5,1121.0 836.0,1121.1 836.5,1121.6 837.0,1121.9 837.5,1121.8 838.0,1121.8 838.5,1122.3 839.0,1122.3 839.5,1123.1 840.0,1122.4 840.5,1122.6 841.0,1121.9 841.5,1123.9 842.0,1123.2 842.5,1124.1 843.0,1123.5 843.5,1124.0 844.0,1122.9 844.5,1123.6 845.0,1125.0 845.5,1122.3 846.0,1124.0 846.5,1124.3 847.0,1123.4 847.5,1123.7 848.0,1124.0 848.5,1122.6 849.0,1123.3 849.5,1122.4 850.0,1122.6 850.5,1122.2 851.0,1122.2 851.5,1121.9 852.0,1121.8 852.5,1120.0 853.0,1122.3 853.5,1121.3 854.0,1120.6 854.5,1119.2 855.0,1119.1 855.5,1119.4 855.9,1118.9 856.0,1116.7 856.5,1118.6 857.0,1120.6 857.5,1114.5 858.0,1117.4 858.5,1116.1 859.0,1114.9 859.5,1116.4 860.0,1112.2 860.5,1113.6 861.0,1115.0 861.5,1111.9 861.8,1111.2 862.0,1111.9 862.5,1110.6 863.0,1113.7 863.5,1109.0 864.0,1111.8 864.5,1107.6 865.0,1110.7 865.5,1108.9 866.0,1104.9 866.5,1108.4 867.0,1105.9 867.5,1106.8 867.7,1110.2 868.0,1105.1 868.5,1104.2 869.0,1107.3 869.5,1104.1 870.0,1105.6 870.5,1102.4 871.0,1099.2 871.5,1099.7 872.0,1101.2 872.1,1100.3 872.5,1097.1 873.0,1095.2 873.5,1093.0 874.0,1090.3 874.4,1093.8 874.5,1089.5 875.0,1085.9 875.5,1086.4 876.0,1088.2 876.5,1087.0 876.6,1084.9 877.0,1084.3 877.5,1085.9 878.0,1084.3 878.5,1084.3 879.0,1089.2 879.5,1085.5 880.0,1088.5 880.5,1091.3 881.0,1089.9 881.5,1088.2 881.7,1094.6 882.0,1090.5 882.5,1087.9 883.0,1091.4 883.5,1090.9 884.0,1087.7 884.5,1090.7 885.0,1090.4 885.4,1088.3 885.5,1091.6 886.0,1094.5 886.5,1097.3 887.0,1099.0 887.5,1103.5 887.6,1104.5 888.0,1106.4 888.5,1107.3 889.0,1111.3 889.5,1111.8 890.0,1115.0 890.5,1118.3 890.6,1117.3 891.0,1117.9 891.5,1120.0 892.0,1119.4 892.5,1120.2 893.0,1121.3 893.5,1122.5 894.0,1121.4 894.3,1122.5 894.5,1122.5 895.0,1122.7 895.5,1123.1 896.0,1123.3 896.5,1124.3 897.0,1123.8 897.5,1124.7 898.0,1125.1 898.5,1124.6 898.7,1125.3 899.0,1126.1 899.5,1125.1 900.0,1124.2 900.5,1124.4 901.0,1123.6 901.5,1124.2 902.0,1124.4 902.5,1123.1 903.0,1123.2 903.5,1123.9 903.9,1122.8 904.0,1122.8 904.5,1120.8 905.0,1119.4 905.5,1118.1 906.0,1118.9 906.5,1115.3 906.8,1114.4 907.0,1113.4 907.5,1111.2 908.0,1109.6 908.3,1107.7 908.5,1110.0 909.0,1106.2 909.5,1107.0 909.6,1104.5 909.7,1060.0 910.0,1055.7 910.5,1058.8 910.9,1058.7 911.0,949.5 911.5,940.9 911.9,938.3 912.0,937.9 912.5,943.7 913.0,949.9 913.4,968.7 913.5,1016.0 914.0,1013.8 914.5,1015.6 915.0,1019.4 915.1,1018.9 915.2,1069.0 915.5,1067.8 916.0,1067.7 916.5,1070.5 916.6,1094.3 917.0,1092.1 917.5,1098.8 918.0,1097.7 918.5,1095.1 919.0,1098.5 919.5,1093.9 920.0,1093.8 920.5,1095.4 920.8,1097.6 921.0,1097.9 921.5,1097.8 922.0,1099.6 922.5,1096.8 923.0,1101.1 923.5,1097.6 924.0,1098.9 924.5,1100.2 925.0,1103.5 925.5,1107.1 926.0,1111.1 926.5,1114.2 927.0,1117.0 927.5,1119.2 928.0,1120.9 928.2,1121.9 928.5,1122.1 929.0,1123.5 929.5,1122.9 930.0,1125.3 930.4,1124.9 930.5,1124.7 931.0,1125.3 931.5,1125.7 932.0,1125.1 932.5,1125.5 933.0,1124.8 933.5,1125.4 934.0,1125.4 934.5,1124.4 935.0,1125.3 935.5,1124.4 936.0,1124.2 936.5,1123.5 937.0,1123.8 937.5,1124.4 938.0,1122.9 938.5,1124.1 938.6,1123.9 939.0,1123.9 939.5,1122.2 940.0,1123.6 940.5,1124.1 941.0,1123.2 941.5,1123.8 942.0,1122.1 942.5,1124.2 943.0,1123.2 943.5,1124.3 944.0,1122.4 944.5,1124.2 945.0,1123.5 945.5,1124.3 946.0,1123.1 946.5,1123.3 947.0,1125.2 947.5,1123.1 948.0,1123.2 948.5,1123.5 949.0,1123.0 949.5,1124.5 950.0,1124.9 950.5,1123.2 951.0,1122.5 951.5,1124.5 951.8,1124.4 952.0,1124.0 952.5,1123.8 953.0,1122.2 953.5,1122.2 954.0,1121.0 954.5,1120.5 955.0,1121.7 955.5,1120.0 956.0,1122.1 956.5,1119.8 957.0,1118.8 957.5,1118.4 958.0,1117.9 958.5,1115.3 959.0,1112.1 959.5,1112.3 960.0,1112.3 960.5,1109.1 961.0,1108.2 961.5,1110.9 962.0,1108.9 962.5,1106.2 963.0,1107.1 963.5,1105.9 964.0,1107.4 964.5,1106.6 965.0,1108.2 965.5,1106.9 965.9,1104.2 966.0,1106.1 966.5,1107.6 967.0,1107.5 967.5,1109.2 968.0,1107.3 968.5,1107.3 969.0,1111.0 969.5,1108.7 969.6,1107.3 970.0,1112.7 970.5,1112.0 971.0,1113.8 971.5,1114.2 971.8,1114.7 972.0,1114.6 972.5,1115.7 973.0,1116.8 973.5,1112.8 974.0,1117.2 974.5,1114.3 975.0,1114.5 975.5,1117.0 976.0,1115.9 976.5,1113.6 977.0,1118.7 977.5,1114.5 978.0,1116.2 978.5,1116.1 979.0,1117.9 979.5,1115.0 980.0,1117.2 980.5,1114.5 980.6,1117.3 981.0,1115.1 981.5,1116.1 982.0,1119.1 982.5,1117.8 983.0,1118.1 983.5,1120.7 984.0,1119.3 984.5,1118.7 985.0,1120.5 985.5,1119.5 985.8,1121.6 986.0,1121.8 986.5,1120.9 987.0,1121.3 987.5,1122.2 988.0,1122.6 988.5,1122.4 989.0,1123.7 989.5,1122.7 990.0,1124.0 990.2,1124.2 990.5,1124.2 991.0,1124.6 991.5,1123.6 992.0,1124.8 992.5,1124.3 993.0,1124.0 993.5,1123.5 994.0,1123.6 994.5,1124.6 995.0,1123.7 995.5,1124.4 996.0,1125.1 996.5,1125.1 997.0,1125.5 997.5,1124.2 998.0,1123.7 998.5,1125.1 999.0,1124.6 999.5,1125.2 1000.0,1124.4 1000.5,1125.2 1001.0,1125.0 1001.5,1124.9 1002.0,1124.7 1002.5,1124.7 1003.0,1124.6 1003.5,1124.6 1004.0,1125.1 1004.5,1124.1 1005.0,1125.6 1005.5,1124.3 1006.0,1125.1 1006.5,1124.3 1007.0,1124.2 1007.5,1125.8 1008.0,1124.2 1008.5,1123.5 1009.0,1123.9 1009.5,1124.2 1010.0,1125.8 1010.5,1124.5 1011.0,1125.0 1011.5,1123.7 1012.0,1124.6 1012.5,1124.8 1013.0,1125.5 1013.5,1123.9 1014.0,1124.7 1014.5,1124.5 1015.0,1123.6 1015.5,1124.3 1016.0,1124.1 1016.5,1122.7 1017.0,1124.7 1017.5,1124.6 1018.0,1124.0 1018.5,1123.3 1019.0,1125.2 1019.5,1124.4 1020.0,1124.9 1020.5,1125.1 1021.0,1123.8 1021.5,1124.6 1022.0,1123.8 1022.5,1123.9 1023.0,1123.8 1023.5,1123.8 1024.0,1124.5 1024.5,1123.8 1025.0,1123.5 1025.5,1123.4 1026.0,1123.7 1026.5,1122.9 1027.0,1123.1 1027.5,1123.3 1028.0,1122.9 1028.5,1123.2 1029.0,1122.8 1029.5,1124.4 1030.0,1123.9 1030.5,1123.3 1031.0,1122.9 1031.5,1124.3 1032.0,1123.1 1032.5,1122.8 1033.0,1122.9 1033.5,1122.9 1034.0,1123.5 1034.5,1122.6 1035.0,1123.9 1035.5,1121.9 1036.0,1122.9 1036.5,1121.7 1037.0,1123.5 1037.5,1122.0 1038.0,1122.2 1038.5,1122.7 1039.0,1122.9 1039.5,1121.3 1040.0,1121.8 1040.5,1121.0 1041.0,1121.9 1041.5,1121.7 1042.0,1121.5 1042.5,1121.2 1043.0,1121.4 1043.5,1121.1 1044.0,1121.9 1044.5,1122.6 1045.0,1120.0 1045.5,1121.3 1046.0,1121.0 1046.5,1121.6 1047.0,1120.5 1047.5,1121.0 1048.0,1120.3 1048.5,1121.6 1049.0,1121.0 1049.5,1120.8 1050.0,1121.2 1050.5,1120.6 1051.0,1119.4 1051.4,1121.2 1051.5,1121.0 1052.0,1120.6 1052.5,1121.6 1053.0,1121.9 1053.5,1120.0 1054.0,1120.3 1054.5,1122.2 1055.0,1122.2 1055.5,1120.5 1056.0,1120.3 1056.5,1120.7 1057.0,1120.9 1057.5,1120.2 1058.0,1121.4 1058.5,1120.5 1059.0,1120.6 1059.5,1122.2 1060.0,1121.1 1060.5,1121.6 1061.0,1122.1 1061.5,1122.3 1062.0,1121.6 1062.5,1121.9 1063.0,1121.4 1063.5,1123.0 1064.0,1122.4 1064.5,1121.4 1065.0,1122.1 1065.5,1122.6 1066.0,1122.5 1066.5,1123.3 1067.0,1123.1 1067.5,1122.0 1068.0,1122.3 1068.5,1121.7 1069.0,1122.6 1069.5,1122.6 1070.0,1124.2 1070.5,1122.7 1071.0,1121.5 1071.5,1122.4 1072.0,1122.9 1072.5,1122.1 1073.0,1122.4 1073.5,1122.7 1074.0,1123.2 1074.5,1123.0 1075.0,1122.6 1075.5,1123.6 1076.0,1122.9 1076.5,1123.0 1077.0,1122.5 1077.5,1122.9 1078.0,1123.8 1078.5,1122.5 1079.0,1123.5 1079.5,1124.0 1080.0,1123.4 1080.5,1123.8 1081.0,1123.1 1081.5,1124.5 1082.0,1124.5 1082.5,1124.0 1082.7,1122.9 1083.0,1123.3 1083.5,1124.5 1084.0,1124.9 1084.5,1124.1 1085.0,1124.6 1085.5,1123.5 1086.0,1123.8 1086.5,1123.9 1087.0,1124.1 1087.5,1123.0 1088.0,1124.5 1088.5,1124.7 1089.0,1123.2 1089.5,1123.1 1090.0,1124.1 1090.5,1123.5 1091.0,1122.5 1091.5,1124.4 1092.0,1124.0 1092.5,1123.6 1093.0,1125.1 1093.5,1124.0 1094.0,1123.5 1094.5,1124.0 1095.0,1123.3 1095.5,1123.5 1096.0,1124.1 1096.5,1123.6 1097.0,1123.6 1097.5,1124.9 1098.0,1124.4 1098.5,1124.4 1099.0,1124.2 1099.5,1124.2 1100.0,1124.7 1100.5,1123.9 1101.0,1124.9 1101.5,1123.4 1102.0,1123.8 1102.5,1123.1 1103.0,1123.7 1103.5,1123.6 1104.0,1123.6 1104.5,1122.1 1105.0,1121.9 1105.5,1121.3 1106.0,1120.5 1106.5,1119.7 1107.0,1120.0 1107.5,1118.2 1107.8,1119.3 1108.0,1119.2 1108.5,1118.5 1109.0,1118.1 1109.5,1117.7 1110.0,1120.7 1110.5,1117.6 1111.0,1120.2 1111.5,1119.3 1112.0,1118.3 1112.5,1117.5 1113.0,1119.5 1113.5,1120.1 1114.0,1117.6 1114.5,1117.7 1115.0,1118.3 1115.5,1117.2 1116.0,1118.3 1116.5,1115.4 1117.0,1116.0 1117.5,1113.7 1118.0,1116.7 1118.5,1113.2 1119.0,1111.1 1119.5,1112.9 1119.6,1112.7 1120.0,1115.4 1120.5,1114.0 1121.0,1115.1 1121.5,1116.4 1122.0,1118.0 1122.5,1117.5 1123.0,1119.0 1123.5,1119.4 1124.0,1119.7 1124.5,1120.7 1125.0,1121.5 1125.5,1120.6 1126.0,1121.5 1126.5,1119.5 1127.0,1120.8 1127.5,1120.4 1128.0,1119.3 1128.5,1118.4 1129.0,1118.4 1129.5,1118.6 1130.0,1118.5 1130.5,1117.8 1131.0,1118.0 1131.5,1116.3 1132.0,1116.6 1132.5,1114.6 1133.0,1116.5 1133.5,1115.5 1133.7,1114.7 1134.0,1116.6 1134.5,1116.8 1135.0,1114.5 1135.5,1117.4 1136.0,1116.9 1136.5,1119.3 1137.0,1120.8 1137.5,1119.5 1138.0,1120.5 1138.5,1120.9 1139.0,1121.8 1139.5,1122.5 1140.0,1123.3 1140.5,1123.1 1140.7,1124.4 1141.0,1123.2 1141.5,1123.8 1142.0,1124.3 1142.5,1124.0 1143.0,1123.2 1143.5,1123.4 1144.0,1123.5 1144.5,1123.7 1145.0,1124.3 1145.5,1123.1 1146.0,1123.9 1146.5,1124.0 1147.0,1124.0 1147.5,1123.9 1148.0,1124.4 1148.5,1123.9 1149.0,1124.1 1149.5,1124.0 1150.0,1124.6 1150.5,1122.8 1151.0,1124.3 1151.5,1123.6 1152.0,1123.6 1152.5,1123.3 1153.0,1122.8 1153.5,1123.5 1154.0,1123.4 1154.5,1123.9 1155.0,1123.0 1155.5,1124.4 1156.0,1123.8 1156.5,1123.6 1157.0,1123.4 1157.5,1123.4 1158.0,1123.2 1158.5,1123.5 1159.0,1123.7 1159.5,1123.6 1160.0,1123.1 1160.5,1123.6 1161.0,1123.3 1161.5,1123.8 1162.0,1124.6 1162.5,1124.0 1163.0,1123.6 1163.5,1123.0 1164.0,1123.1 1164.5,1123.0 1165.0,1124.1 1165.5,1123.4 1166.0,1123.8 1166.5,1123.5 1167.0,1123.8 1167.5,1124.4 1168.0,1123.4 1168.5,1123.6 1169.0,1123.4 1169.5,1124.1 1170.0,1123.3 1170.5,1123.2 1171.0,1123.1 1171.5,1123.1 1172.0,1123.9 1172.5,1124.9 1173.0,1123.3 1173.5,1124.2 1174.0,1123.8 1174.5,1123.3 1175.0,1123.6 1175.5,1123.6 1176.0,1123.4 1176.5,1124.6 1177.0,1122.9 1177.5,1123.9 1178.0,1123.9 1178.5,1123.5 1179.0,1123.8 1179.5,1124.1 1180.0,1123.8 1180.5,1123.9 1181.0,1124.0 1181.5,1122.9 1182.0,1124.4 1182.5,1124.7 1183.0,1124.2 1183.5,1124.2 1184.0,1123.2 1184.5,1123.7 1185.0,1123.4 1185.5,1123.5 1186.0,1124.2 1186.5,1123.4 1187.0,1123.7 1187.5,1123.0 1188.0,1123.7 1188.5,1123.8 1189.0,1123.5 1189.5,1123.5 1190.0,1124.5 1190.5,1123.3 1191.0,1123.3 1191.5,1123.4 1192.0,1124.2 1192.5,1124.6 1193.0,1123.9 1193.5,1123.5 1194.0,1123.6 1194.5,1124.2 1195.0,1123.4 1195.5,1124.3 1196.0,1124.3 1196.5,1123.8 1197.0,1124.0 1197.5,1124.1 1198.0,1124.4 1198.5,1123.4 1199.0,1124.2 1199.5,1123.6 1200.0,1123.5 1200.5,1123.8 1201.0,1123.7 1201.5,1123.4 1202.0,1123.1 1202.5,1123.4 1203.0,1124.3 1203.5,1124.5 1204.0,1124.0 1204.5,1124.2 1205.0,1123.6 1205.5,1123.7 1206.0,1123.9 1206.5,1123.4 1207.0,1123.4 1207.5,1123.8 1208.0,1123.7 1208.5,1123.4 1209.0,1123.9 1209.5,1123.7 1210.0,1124.2 1210.5,1123.8 1211.0,1123.7 1211.5,1123.8 1212.0,1123.7 1212.5,1123.5 1213.0,1123.6 1213.5,1124.1 1214.0,1124.0 1214.5,1124.3 1215.0,1123.1 1215.5,1123.6 1216.0,1123.6 1216.5,1123.9 1217.0,1123.6 1217.5,1123.6 1218.0,1124.1 1218.5,1123.9 1219.0,1123.4 1219.5,1124.3 1220.0,1124.2 1220.5,1123.6 1221.0,1124.1 1221.5,1123.5 1222.0,1124.2 1222.5,1123.7 1223.0,1123.5 1223.5,1123.7 1223.9,1123.5 1224.0,1123.8 1224.5,1123.7 1225.0,1123.6 1225.5,1123.2 1226.0,1122.1 1226.5,1123.3 1227.0,1122.5 1227.5,1123.1 1228.0,1123.3 1228.5,1122.9 1229.0,1122.5 1229.5,1122.5 1230.0,1122.4 1230.5,1122.1 1231.0,1122.0 1231.5,1121.8 1232.0,1122.4 1232.5,1122.0 1233.0,1122.4 1233.5,1121.9 1234.0,1122.0 1234.5,1121.9 1235.0,1122.2 1235.5,1122.3 1236.0,1122.1 1236.5,1121.8 1237.0,1121.7 1237.5,1122.6 1238.0,1121.9 1238.5,1121.9 1239.0,1122.6 1239.5,1122.4 1240.0,1122.2 1240.5,1121.9 1241.0,1122.9 1241.5,1122.2 1242.0,1122.2 1242.5,1122.0 1243.0,1121.5 1243.5,1121.6 1244.0,1122.2 1244.5,1122.2 1245.0,1122.0 1245.5,1121.6 1246.0,1121.5 1246.5,1121.9 1247.0,1121.5 1247.5,1122.4 1248.0,1122.5 1248.5,1123.1 1249.0,1122.4 1249.5,1121.9 1250.0,1121.8 1250.5,1120.9 1251.0,1121.9 1251.5,1122.0 1252.0,1122.4 1252.5,1122.3 1253.0,1122.3 1253.5,1122.2 1254.0,1122.3 1254.5,1122.6 1255.0,1121.7 1255.5,1121.9 1256.0,1121.6 1256.5,1122.7 1257.0,1122.5 1257.5,1122.4 1258.0,1121.7 1258.5,1122.2 1259.0,1122.0 1259.5,1122.1 1260.0,1122.0 1260.5,1122.3 1261.0,1122.0 1261.5,1122.4 1262.0,1122.2 1262.5,1122.0 1263.0,1122.1 1263.5,1122.0 1264.0,1122.4 1264.5,1122.0 1265.0,1122.2 1265.5,1122.0 1266.0,1121.6 1266.5,1122.4 1267.0,1121.8 1267.5,1122.4 1268.0,1122.3 1268.5,1121.6 1269.0,1121.8 1269.5,1122.0 1270.0,1121.9 1270.5,1121.7 1271.0,1122.4 1271.5,1122.1 1272.0,1122.3 1272.5,1122.0 1273.0,1122.3 1273.5,1121.9 1274.0,1122.1 1274.5,1122.4 1275.0,1122.2 1275.5,1122.0 1276.0,1121.8 1276.5,1122.2 1277.0,1122.3 1277.5,1122.1 1278.0,1121.9 1278.5,1122.4 1279.0,1123.0 1279.5,1122.1 1280.0,1122.3 1280.5,1122.3 1281.0,1121.3 1281.5,1122.2 1282.0,1121.9 1282.5,1122.7 1283.0,1122.1 1283.5,1121.9 1284.0,1122.1 1284.5,1122.2 1285.0,1122.0 1285.5,1122.2 1286.0,1121.7 1286.5,1122.1 1286.6,1122.5 1287.0,1122.9 1287.5,1122.5 1288.0,1122.3 1288.5,1122.6 1289.0,1122.6 1289.5,1122.8 1290.0,1122.6 1290.5,1122.2 1291.0,1122.4 1291.5,1122.3 1292.0,1122.4 1292.5,1122.4 1293.0,1122.1 1293.5,1121.6 1294.0,1122.1 1294.5,1121.7 1295.0,1122.4 1295.5,1122.4 1296.0,1121.8 1296.5,1122.6 1297.0,1122.7 1297.5,1122.4 1298.0,1123.0 1298.5,1123.0 1299.0,1122.0 1299.5,1122.8 1300.0,1122.6 1300.5,1122.6 1301.0,1122.8 1301.5,1122.2 1302.0,1122.3 1302.5,1122.2 1303.0,1122.2 1303.5,1122.5 1304.0,1122.0 1304.5,1122.2 1305.0,1122.7 1305.5,1122.5 1306.0,1122.7 1306.5,1121.9 1307.0,1122.3 1307.5,1122.4 1308.0,1122.6 1308.5,1122.4 1309.0,1122.9 1309.5,1122.6 1310.0,1122.6 1310.5,1122.6 1311.0,1122.9 1311.5,1122.5 1312.0,1123.0 1312.5,1122.8 1313.0,1122.7 1313.5,1122.7 1314.0,1122.9 1314.5,1123.0 1315.0,1123.0 1315.5,1122.8 1316.0,1123.0 1316.5,1122.8 1317.0,1123.2 1317.5,1122.7 1318.0,1122.1 1318.5,1123.2 1319.0,1122.8 1319.5,1122.4 1320.0,1122.7 1320.5,1122.5 1321.0,1123.5 1321.5,1123.0 1322.0,1122.3 1322.5,1123.0 1323.0,1122.7 1323.5,1123.5 1324.0,1122.5 1324.5,1122.2 1325.0,1122.9 1325.5,1122.8 1326.0,1122.8 1326.5,1122.2 1327.0,1123.1 1327.5,1123.5 1328.0,1122.3 1328.5,1123.4 1329.0,1122.8 1329.5,1123.8 1330.0,1123.1 1330.5,1122.9 1331.0,1123.4 1331.5,1123.2 1332.0,1122.8 1332.5,1123.3 1333.0,1122.9 1333.5,1122.5 1334.0,1123.7 1334.5,1123.0 1335.0,1122.9 1335.5,1123.2 1336.0,1122.6 1336.5,1122.7 1337.0,1123.0 1337.5,1123.0 1338.0,1123.2 1338.5,1123.5 1339.0,1123.0 1339.5,1123.3 1340.0,1123.4 1340.5,1122.7 1341.0,1123.0 1341.5,1122.5 1342.0,1122.9 1342.5,1122.6 1343.0,1122.3 1343.5,1121.7 1344.0,1122.0 1344.5,1121.6 1345.0,1121.9 1345.5,1121.3 1346.0,1120.7 1346.5,1121.0 1347.0,1120.6 1347.5,1119.7 1348.0,1120.2 1348.5,1119.2 1349.0,1118.8 1349.5,1118.7 1350.0,1117.9 1350.5,1117.7 1351.0,1117.5 1351.5,1118.1 1352.0,1117.8 1352.5,1116.4 1352.9,1117.3 1353.0,1116.4 1353.5,1117.1 1354.0,1117.8 1354.5,1118.0 1355.0,1119.5 1355.5,1119.0 1356.0,1118.8 1356.5,1120.4 1357.0,1120.2 1357.5,1120.7 1358.0,1120.4 1358.5,1122.1 1358.9,1122.4 1359.0,1122.5 1359.5,1122.6 1360.0,1122.9 1360.5,1122.5 1361.0,1122.8 1361.5,1122.4 1362.0,1122.6 1362.5,1123.1 1363.0,1123.0 1363.5,1122.6 1364.0,1123.2 1364.5,1123.1 1364.8,1123.0 1365.0,1123.2 1365.5,1122.5 1366.0,1121.8 1366.5,1121.6 1367.0,1122.0 1367.5,1120.6 1368.0,1120.8 1368.5,1120.6 1369.0,1120.2 1369.5,1119.0 1369.8,1119.2 1370.0,1119.1 1370.5,1118.7 1371.0,1117.3 1371.5,1116.3 1372.0,1116.7 1372.5,1116.1 1373.0,1114.9 1373.3,1113.9 1373.5,1114.4 1374.0,1113.8 1374.5,1114.0 1374.6,1113.3 1374.7,1092.4 1375.0,1092.0 1375.5,1090.4 1376.0,1091.7 1376.1,1091.4 1376.2,1033.8 1376.5,1032.8 1377.0,1028.4 1377.3,1028.5 1377.5,1030.0 1378.0,1031.8 1378.5,1034.9 1378.8,1034.7 1379.0,1064.5 1379.5,1065.7 1380.0,1066.8 1380.5,1070.0 1381.0,1068.7 1381.5,1068.6 1381.6,1086.5 1382.0,1086.1 1382.5,1086.1 1383.0,1088.6 1383.1,1109.3 1383.5,1111.4 1384.0,1113.5 1384.5,1116.1 1384.7,1116.4 1385.0,1117.3 1385.5,1116.9 1386.0,1117.4 1386.5,1119.3 1387.0,1120.0 1387.5,1120.2 1387.7,1120.4 1388.0,1120.4 1388.5,1120.1 1389.0,1121.1 1389.5,1120.8 1390.0,1120.8 1390.5,1120.8 1391.0,1121.1 1391.5,1120.9 1391.6,1121.0 1392.0,1120.1 1392.5,1120.6 1393.0,1121.2 1393.5,1119.8 1394.0,1119.8 1394.5,1120.1 1395.0,1119.9 1395.5,1119.6 1396.0,1118.3 1396.5,1119.2 1397.0,1118.1 1397.5,1118.1 1398.0,1118.7 1398.5,1118.0 1399.0,1118.5 1399.5,1119.6 1399.6,1118.2 1400.0,1117.9 1400.5,1116.7 1401.0,1116.4 1401.5,1115.8 1402.0,1115.8 1402.5,1115.1 1403.0,1115.0 1403.5,1114.9 1404.0,1114.1 1404.5,1113.4 1404.6,1113.4 1405.0,1114.6 1405.5,1114.1 1406.0,1114.8 1406.5,1114.7 1407.0,1113.5 1407.5,1114.2 1408.0,1112.4 1408.5,1115.2 1409.0,1114.3 1409.5,1113.0 1410.0,1112.2 1410.5,1113.3 1411.0,1111.3 1411.5,1112.1 1412.0,1113.3 1412.5,1112.6 1413.0,1112.0 1413.5,1113.1 1414.0,1111.8 1414.5,1113.1 1415.0,1112.8 1415.5,1112.9 1416.0,1114.1 1416.5,1113.4 1417.0,1115.7 1417.5,1114.2 1418.0,1116.3 1418.5,1114.5 1419.0,1115.9 1419.5,1114.9 1420.0,1114.7 1420.5,1115.4 1421.0,1115.4 1421.5,1113.8 1422.0,1115.3 1422.5,1113.6 1423.0,1114.0 1423.5,1113.9 1424.0,1113.8 1424.5,1111.7 1425.0,1114.0 1425.5,1112.9 1425.9,1112.0 1426.0,1111.6 1426.5,1111.5 1427.0,1112.1 1427.5,1113.8 1428.0,1113.6 1428.5,1113.4 1429.0,1114.2 1429.5,1115.9 1430.0,1115.1 1430.5,1115.3 1431.0,1116.8 1431.4,1116.6 1431.5,1116.4 1432.0,1116.3 1432.5,1116.1 1433.0,1116.6 1433.5,1117.3 1434.0,1117.8 1434.5,1118.4 1435.0,1118.8 1435.5,1119.0 1436.0,1119.3 1436.5,1119.0 1437.0,1118.8 1437.5,1119.9 1438.0,1120.0 1438.5,1120.5 1439.0,1120.9 1439.3,1120.8 1439.5,1120.9 1440.0,1121.5 1440.5,1121.8 1441.0,1121.9 1441.5,1122.4 1442.0,1122.5 1442.5,1122.5 1443.0,1123.1 1443.3,1123.8 1443.5,1122.9 1444.0,1123.4 1444.5,1123.3 1445.0,1123.3 1445.5,1122.4 1446.0,1123.2 1446.5,1122.5 1447.0,1122.3 1447.5,1122.2 1448.0,1122.3 1448.5,1122.0 1449.0,1121.8 1449.5,1122.2 1450.0,1121.4 1450.5,1121.2 1451.0,1121.7 1451.5,1121.6 1452.0,1121.6 1452.5,1120.7 1453.0,1121.4 1453.5,1121.1 1454.0,1121.5 1454.2,1120.2 1454.5,1120.8 1455.0,1120.6 1455.5,1120.0 1456.0,1120.4 1456.5,1121.2 1457.0,1120.5 1457.5,1120.4 1458.0,1121.1 1458.5,1121.1 1459.0,1121.1 1459.2,1120.4 1459.5,1120.8 1460.0,1121.4 1460.5,1120.9 1461.0,1121.0 1461.5,1121.8 1462.0,1122.2 1462.5,1121.5 1463.0,1121.2 1463.5,1121.7 1464.0,1122.0 1464.5,1122.5 1465.0,1122.8 1465.1,1122.7 1465.5,1122.4 1466.0,1122.6 1466.5,1122.2 1467.0,1122.4 1467.5,1122.2 1468.0,1123.2 1468.5,1122.5 1469.0,1122.0 1469.5,1121.8 1470.0,1122.0 1470.5,1121.5 1471.0,1121.7 1471.5,1121.7 1472.0,1122.1 1472.5,1121.6 1473.0,1121.4 1473.1,1121.3 1473.5,1120.8 1474.0,1120.5 1474.5,1119.7 1475.0,1119.6 1475.5,1118.2 1476.0,1118.3 1476.5,1117.2 1477.0,1116.4 1477.1,1115.3 1477.5,1114.8 1478.0,1114.8 1478.5,1114.2 1479.0,1112.5 1479.5,1111.8 1480.0,1110.0 1480.5,1109.4 1481.0,1108.6 1481.5,1109.2 1482.0,1108.1 1482.5,1107.0 1483.0,1106.4 1483.5,1106.5 1484.0,1105.7 1484.5,1104.0 1485.0,1105.5 1485.5,1103.6 1486.0,1102.7 1486.5,1103.3 1487.0,1102.2 1487.5,1100.5 1488.0,1100.4 1488.5,1098.3 1489.0,1098.1 1489.5,1095.8 1490.0,1098.8 1490.5,1095.0 1491.0,1097.0 1491.5,1093.8 1492.0,1091.7 1492.5,1090.3 1493.0,1090.0 1493.5,1089.6 1494.0,1090.1 1494.4,1088.1 1494.5,1088.8 1495.0,1086.9 1495.5,1089.0 1496.0,1088.4 1496.5,1087.8 1497.0,1088.5 1497.5,1088.8 1498.0,1089.4 1498.5,1089.9 1498.9,1089.0 1499.0,1089.1 1499.5,1091.8 1500.0,1091.1 1500.5,1093.4 1501.0,1096.6 1501.4,1094.5 1501.5,1096.3 1502.0,1099.2 1502.5,1099.8 1502.9,1104.6 1503.0,1100.1 1503.5,1104.4 1504.0,1105.1 1504.5,1105.2 1505.0,1104.8 1505.5,1105.9 1506.0,1105.5 1506.5,1107.5 1506.9,1106.6 1507.0,1107.4 1507.5,1109.7 1508.0,1110.0 1508.5,1111.9 1508.9,1113.4 1509.0,1112.6 1509.5,1114.8 1510.0,1114.9 1510.5,1114.5 1511.0,1116.0 1511.5,1116.2 1512.0,1116.9 1512.5,1118.0 1512.8,1118.0 1513.0,1118.9 1513.5,1118.5 1514.0,1119.6 1514.5,1119.5 1515.0,1120.3 1515.5,1120.1 1516.0,1120.5 1516.5,1120.6 1517.0,1121.6 1517.5,1122.0 1518.0,1122.7 1518.5,1122.8 1518.8,1122.8 1519.0,1122.6 1519.5,1122.7 1520.0,1122.4 1520.5,1122.8 1521.0,1122.5 1521.5,1121.9 1522.0,1121.8 1522.5,1122.3 1523.0,1121.9 1523.5,1121.6 1524.0,1122.0 1524.5,1121.3 1525.0,1121.3 1525.5,1121.1 1526.0,1120.4 1526.5,1121.4 1527.0,1120.5 1527.5,1120.6 1528.0,1120.4 1528.5,1120.9 1529.0,1120.5 1529.5,1120.4 1530.0,1119.6 1530.5,1120.1 1531.0,1119.3 1531.5,1120.0 1532.0,1119.9 1532.5,1119.6 1533.0,1120.4 1533.5,1119.6 1534.0,1119.4 1534.5,1119.1 1535.0,1118.8 1535.2,1119.3 1535.5,1119.4 1536.0,1118.0 1536.5,1119.4 1537.0,1119.0 1537.5,1119.3 1538.0,1119.0 1538.5,1118.0 1539.0,1118.0 1539.5,1119.7 1540.0,1118.8 1540.5,1117.8 1541.0,1118.8 1541.5,1118.4 1542.0,1117.5 1542.5,1117.2 1543.0,1117.6 1543.5,1118.7 1544.0,1118.5 1544.5,1118.3 1545.0,1118.6 1545.5,1118.8 1546.0,1117.2 1546.5,1118.2 1547.0,1117.9 1547.5,1117.7 1548.0,1118.0 1548.5,1118.3 1549.0,1118.2 1549.5,1117.5 1550.0,1118.0 1550.5,1119.5 1551.0,1117.6 1551.5,1117.2 1552.0,1118.4 1552.5,1118.6 1553.0,1118.5 1553.5,1117.5 1554.0,1118.8 1554.5,1117.7 1555.0,1117.4 1555.5,1117.7 1556.0,1118.0 1556.5,1118.5 1557.0,1118.4 1557.5,1118.0 1558.0,1118.6 1558.5,1118.1 1558.7,1118.5 1559.0,1117.4 1559.5,1117.7 1560.0,1119.1 1560.5,1118.4 1561.0,1119.2 1561.5,1119.6 1562.0,1119.7 1562.5,1120.0 1563.0,1121.1 1563.5,1119.9 1564.0,1121.4 1564.5,1122.2 1565.0,1121.7 1565.5,1122.0 1566.0,1122.5 1566.5,1123.1 1567.0,1122.5 1567.5,1123.2 1568.0,1123.4 1568.1,1123.7 1568.5,1123.5 1569.0,1123.7 1569.5,1123.3 1570.0,1123.5 1570.5,1123.2 1571.0,1123.2 1571.5,1123.4 1572.0,1123.4 1572.5,1123.1 1573.0,1123.9 1573.5,1123.4 1574.0,1123.0 1574.5,1123.7 1575.0,1123.2 1575.5,1123.5 1576.0,1123.4 1576.5,1123.4 1577.0,1123.4 1577.5,1123.2 1578.0,1123.4 1578.5,1124.0 1579.0,1122.6 1579.5,1123.3 1580.0,1123.4 1580.5,1123.0 1581.0,1122.9 1581.5,1124.0 1582.0,1123.2 1582.5,1123.9 1583.0,1123.4 1583.5,1123.3 1584.0,1123.4 1584.5,1123.4 1585.0,1123.6 1585.5,1123.4 1586.0,1123.3 1586.5,1123.3 1587.0,1123.6 1587.5,1123.4 1588.0,1122.9 1588.5,1123.0 1589.0,1123.3 1589.5,1123.0 1590.0,1123.0 1590.5,1122.8 1591.0,1123.0 1591.5,1123.3 1592.0,1123.4 1592.5,1123.1 1593.0,1123.8 1593.5,1123.1 1594.0,1124.1 1594.5,1123.4 1595.0,1123.2 1595.5,1122.9 1596.0,1122.2 1596.5,1123.0 1597.0,1123.1 1597.5,1123.6 1598.0,1122.6 1598.5,1123.6 1599.0,1122.9 1599.3,1123.2 1599.5,1122.2 1600.0,1122.7 1600.5,1122.4 1601.0,1122.4 1601.5,1122.0 1602.0,1121.4 1602.5,1121.9 1603.0,1121.6 1603.5,1121.3 1604.0,1121.3 1604.5,1121.1 1605.0,1120.4 1605.5,1119.6 1606.0,1119.4 1606.5,1120.4 1607.0,1119.9 1607.5,1119.4 1608.0,1118.9 1608.2,1119.0 1608.5,1119.0 1609.0,1118.8 1609.5,1118.6 1610.0,1120.2 1610.5,1119.1 1611.0,1118.7 1611.5,1118.3 1612.0,1118.6 1612.5,1119.4 1613.0,1119.4 1613.5,1118.9 1614.0,1119.0 1614.5,1118.8 1615.0,1118.4 1615.5,1119.7 1616.0,1119.2 1616.5,1120.4 1617.0,1118.6 1617.5,1118.9 1618.0,1119.5 1618.5,1118.9 1619.0,1118.2 1619.5,1118.5 1620.0,1119.1 1620.5,1119.2 1621.0,1118.9 1621.5,1119.6 1621.9,1119.5 1622.0,1119.2 1622.5,1119.2 1623.0,1119.2 1623.5,1119.7 1624.0,1120.1 1624.5,1119.8 1625.0,1120.1 1625.5,1119.9 1626.0,1119.6 1626.5,1119.9 1627.0,1120.8 1627.5,1120.9 1628.0,1121.5 1628.5,1121.0 1629.0,1121.4 1629.5,1121.7 1630.0,1121.8 1630.5,1121.4 1631.0,1121.7 1631.5,1121.9 1632.0,1121.7 1632.5,1122.3 1633.0,1122.6 1633.5,1122.3 1634.0,1123.2 1634.5,1122.7 1635.0,1122.8 1635.5,1123.0 1636.0,1123.0 1636.5,1123.5 1637.0,1123.5 1637.5,1124.1 1638.0,1124.0 1638.5,1123.9 1639.0,1123.6 1639.5,1123.2 1640.0,1123.6 1640.5,1123.3 1641.0,1123.8 1641.5,1123.4 1642.0,1123.9 1642.5,1123.6 1643.0,1123.6 1643.5,1123.3 1644.0,1123.3 1644.5,1123.4 1645.0,1123.4 1645.5,1122.8 1646.0,1123.1 1646.5,1123.8 1647.0,1122.9 1647.5,1122.8 1648.0,1122.6 1648.5,1122.3 1649.0,1123.1 1649.5,1122.7 1650.0,1122.7 1650.5,1123.1 1651.0,1123.3 1651.5,1122.2 1652.0,1122.7 1652.5,1122.5 1653.0,1122.4 1653.5,1122.4 1654.0,1122.2 1654.5,1122.6 1654.9,1122.3 1655.0,1122.2 1655.5,1122.3 1656.0,1122.1 1656.5,1121.9 1657.0,1121.7 1657.5,1122.1 1658.0,1121.6 1658.5,1121.3 1659.0,1120.9 1659.5,1120.9 1660.0,1120.5 1660.5,1120.9 1661.0,1120.8 1661.5,1119.8 1662.0,1120.5 1662.5,1120.7 1663.0,1120.4 1663.5,1119.7 1663.8,1120.7 1664.0,1119.7 1664.5,1119.2 1665.0,1119.0 1665.5,1119.2 1666.0,1119.5 1666.5,1119.3 1667.0,1118.6 1667.5,1117.6 1668.0,1117.6 1668.5,1117.3 1668.8,1117.5 1669.0,1116.5 1669.5,1117.7 1670.0,1118.0 1670.5,1117.6 1670.6,1102.7 1671.0,1101.5 1671.5,1100.6 1672.0,1101.7 1672.1,1083.9 1672.5,1084.2 1672.8,1081.8 1673.0,1084.3 1673.5,1082.8 1674.0,1084.0 1674.2,1095.9 1674.5,1095.6 1675.0,1097.4 1675.5,1096.2 1676.0,1096.5 1676.5,1096.4 1677.0,1098.7 1677.5,1098.9 1678.0,1099.4 1678.5,1107.6 1679.0,1109.2 1679.5,1107.5 1680.0,1108.0 1680.1,1115.7 1680.5,1116.8 1681.0,1116.5 1681.5,1115.8 1682.0,1116.9 1682.5,1117.9 1683.0,1118.0 1683.5,1119.2 1683.7,1117.9 1684.0,1119.1 1684.5,1118.6 1685.0,1119.8 1685.5,1119.3 1686.0,1120.0 1686.5,1119.5 1687.0,1119.3 1687.5,1119.7 1688.0,1120.1 1688.5,1120.2 1689.0,1121.3 1689.5,1121.5 1689.7,1121.2 1690.0,1120.8 1690.5,1121.2 1691.0,1121.1 1691.5,1122.0 1692.0,1121.7 1692.5,1121.8 1693.0,1121.6 1693.5,1121.2 1694.0,1121.7 1694.5,1121.7 1695.0,1122.3 1695.5,1122.3 1696.0,1122.1 1696.5,1122.4 1697.0,1123.1 1697.5,1122.4 1698.0,1122.5 1698.5,1122.8 1699.0,1122.8 1699.5,1122.9 1699.6,1123.3 1700.0,1123.6 1700.5,1122.5 1701.0,1123.0 1701.5,1123.0 1702.0,1123.0 1702.5,1122.9 1703.0,1122.9 1703.5,1123.3 1704.0,1122.8 1704.5,1122.9 1705.0,1122.9 1705.5,1122.9 1706.0,1122.8 1706.5,1123.1 1707.0,1122.8 1707.5,1122.8 1708.0,1122.8 1708.5,1122.4 1709.0,1122.5 1709.5,1122.4 1710.0,1122.8 1710.5,1122.5 1711.0,1122.3 1711.5,1122.7 1712.0,1122.8 1712.5,1122.0 1713.0,1123.1 1713.5,1122.6 1714.0,1122.5 1714.5,1122.9 1715.0,1122.5 1715.5,1122.3 1716.0,1123.2 1716.5,1122.1 1717.0,1122.4 1717.5,1122.7 1718.0,1122.0 1718.5,1122.3 1719.0,1122.5 1719.5,1123.1 1720.0,1122.0 1720.5,1122.3 1721.0,1122.5 1721.5,1122.3 1722.0,1121.9 1722.5,1122.3 1723.0,1122.2 1723.5,1122.3 1724.0,1122.5 1724.5,1122.5 1725.0,1122.2 1725.4,1122.2 1725.5,1121.8 1726.0,1122.1 1726.5,1122.2 1727.0,1122.1 1727.5,1122.3 1728.0,1122.0 1728.5,1122.8 1729.0,1123.0 1729.5,1122.3 1730.0,1122.6 1730.5,1122.4 1731.0,1122.9 1731.5,1122.7 1732.0,1122.6 1732.5,1122.5 1733.0,1122.7 1733.5,1122.4 1734.0,1122.9 1734.5,1122.5 1735.0,1123.0 1735.5,1122.9 1736.0,1123.2 1736.5,1122.9 1737.0,1123.3 1737.5,1122.7 1738.0,1123.2 1738.5,1123.0 1739.0,1123.1 1739.3,1123.1 1739.5,1123.3 1740.0,1122.2 1740.5,1122.7 1741.0,1122.0 1741.5,1122.6 1742.0,1121.5 1742.5,1121.6 1743.0,1121.2 1743.3,1122.2 1743.5,1121.2 1744.0,1121.8 1744.5,1121.6 1745.0,1121.3 1745.5,1121.9 1746.0,1122.3 1746.5,1122.1 1747.0,1122.5 1747.5,1122.2 1748.0,1122.4 1748.5,1122.3 1749.0,1122.7 1749.3,1123.2 1749.5,1122.7 1750.0,1122.7 1750.5,1122.4 1751.0,1122.4 1751.5,1123.1 1752.0,1122.2 1752.5,1122.3 1753.0,1122.6 1753.5,1122.5 1754.0,1123.2 1754.5,1121.8 1755.0,1122.7 1755.5,1122.8 1756.0,1122.2 1756.5,1122.4 1757.0,1122.7 1757.5,1123.1 1758.0,1122.3 1758.5,1122.1 1759.0,1122.9 1759.2,1123.0 1759.5,1122.2 1760.0,1121.2 1760.5,1121.8 1761.0,1120.7 1761.5,1120.7 1762.0,1119.8 1762.2,1119.4 1762.5,1119.1 1763.0,1119.3 1763.5,1118.8 1764.0,1116.5 1764.5,1116.5 1765.0,1117.4 1765.5,1115.6 1765.7,1115.5 1765.9,1101.5 1766.0,1101.2 1766.5,1100.5 1766.6,1099.9 1767.0,1100.3 1767.5,1100.4 1768.0,1101.5 1768.5,1100.5 1769.0,1101.3 1769.1,1101.5 1769.5,1103.3 1770.0,1102.9 1770.5,1102.8 1771.0,1103.9 1771.5,1104.2 1772.0,1105.3 1772.5,1105.1 1773.0,1106.8 1773.1,1105.9 1773.5,1113.6 1774.0,1113.8 1774.5,1115.1 1775.0,1115.4 1775.5,1115.5 1776.0,1115.2 1776.5,1115.5 1777.0,1117.2 1777.1,1117.5 1777.5,1117.6 1778.0,1116.1 1778.5,1117.6 1779.0,1116.5 1779.5,1117.0 1780.0,1117.0 1780.5,1116.1 1781.0,1116.1 1781.5,1115.1 1782.0,1115.8 1782.5,1115.1 1783.0,1116.5 1783.5,1116.2 1784.0,1116.7 1784.5,1116.4 1785.0,1115.8 1785.5,1116.6 1786.0,1116.1 1786.5,1116.9 1787.0,1116.8 1787.5,1116.0 1788.0,1116.7 1788.5,1116.8 1789.0,1116.7 1789.5,1117.5 1790.0,1118.1 1790.5,1116.8 1791.0,1116.9 1791.5,1115.8 1792.0,1117.2 1792.5,1117.1 1793.0,1116.1 1793.5,1117.7 1794.0,1117.9 1794.5,1117.5 1795.0,1118.0 1795.5,1118.0 1796.0,1119.2 1796.5,1118.4 1797.0,1119.3 1797.5,1120.6 1798.0,1120.1 1798.5,1120.5 1798.9,1120.5 1799.0,1120.2 1799.5,1120.9 1800.0,1121.4 1800.5,1121.2 1801.0,1122.0 1801.5,1122.5 1802.0,1122.8 1802.5,1122.3 1803.0,1122.8 1803.5,1122.9 1803.9,1123.9 1804.0,1123.8 1804.5,1123.8 1805.0,1123.3 1805.5,1123.2 1806.0,1123.5 1806.5,1123.5 1807.0,1123.2 1807.5,1123.5 1808.0,1123.6 1808.5,1123.4 1809.0,1123.0 1809.5,1122.6 1810.0,1123.2 1810.5,1123.3 1811.0,1123.2 1811.5,1123.1 1812.0,1123.0 1812.5,1123.4 1813.0,1123.1 1813.5,1123.2 1813.8,1122.8 1814.0,1122.9 1814.5,1122.9 1815.0,1122.4 1815.5,1122.2 1816.0,1122.3 1816.5,1122.6 1817.0,1122.2 1817.5,1122.4 1818.0,1121.7 1818.5,1121.5 1819.0,1121.0 1819.5,1121.1 1820.0,1121.7 1820.5,1121.1 1821.0,1121.1 1821.5,1121.0 1821.8,1120.6 1822.0,1120.6 1822.5,1120.9 1823.0,1121.3 1823.5,1121.4 1824.0,1121.6 1824.5,1121.6 1825.0,1121.5 1825.5,1121.9 1826.0,1121.9 1826.5,1122.6 1827.0,1121.9 1827.5,1122.6 1828.0,1123.6 1828.5,1123.0 1829.0,1122.9 1829.5,1123.4 1830.0,1124.0 1830.5,1123.5 1831.0,1123.7 1831.5,1123.5 1832.0,1123.4 1832.5,1124.4 1833.0,1123.4 1833.5,1123.2 1834.0,1123.2 1834.5,1123.4 1835.0,1123.4 1835.5,1123.5 1836.0,1123.3 1836.5,1122.8 1837.0,1123.3 1837.5,1123.1 1838.0,1123.0 1838.5,1122.6 1839.0,1122.9 1839.5,1122.8 1840.0,1123.0 1840.5,1122.4 1841.0,1122.6 1841.5,1122.5 1842.0,1121.9 1842.5,1121.9 1843.0,1121.6 1843.5,1122.0 1844.0,1120.7 1844.5,1121.2 1845.0,1120.5 1845.5,1120.8 1846.0,1121.1 1846.5,1120.3 1847.0,1120.4 1847.5,1119.8 1848.0,1120.9 1848.5,1120.2 1849.0,1120.2 1849.5,1118.8 1850.0,1118.7 1850.5,1119.6 1850.7,1118.9 1851.0,1119.0 1851.5,1119.5 1852.0,1119.0 1852.5,1120.1 1853.0,1120.0 1853.5,1120.4 1854.0,1120.1 1854.5,1120.8 1855.0,1120.5 1855.5,1121.4 1856.0,1121.6 1856.5,1121.7 1857.0,1121.8 1857.5,1122.0 1858.0,1121.3 1858.5,1122.5 1859.0,1122.4 1859.5,1122.7 1860.0,1122.8 1860.3,1122.6"/>
</g>
<g stroke="#000" stroke-width="5.8" fill="none">
<rect x="123.0" y="40.7" width="1737.5" height="1278.8"/>
<line x1="371.2" y1="1319.5" x2="371.2" y2="1294.2"/><line x1="619.4" y1="1319.5" x2="619.4" y2="1294.2"/><line x1="867.6" y1="1319.5" x2="867.6" y2="1294.2"/><line x1="1115.9" y1="1319.5" x2="1115.9" y2="1294.2"/><line x1="1364.1" y1="1319.5" x2="1364.1" y2="1294.2"/><line x1="1612.3" y1="1319.5" x2="1612.3" y2="1294.2"/>
</g>
<g class="b" font-size="53.6">
<text x="123.2" y="1387.7" text-anchor="middle">10</text><text x="371.4" y="1387.7" text-anchor="middle">20</text><text x="619.6" y="1387.7" text-anchor="middle">30</text><text x="867.8" y="1387.7" text-anchor="middle">40</text><text x="1116.1" y="1387.7" text-anchor="middle">50</text><text x="1364.3" y="1387.7" text-anchor="middle">60</text><text x="1612.5" y="1387.7" text-anchor="middle">70</text><text x="1860.7" y="1387.7" text-anchor="middle">80</text>
</g>
<text class="b" font-size="66.67" x="991" y="1466.0" text-anchor="middle">2θ (degree)</text>
<text class="b" font-size="66.67" transform="translate(68.4,678.7) rotate(-90)" text-anchor="middle">Intensity (counts)</text>
<g stroke-width="6.3" stroke-linecap="round">
<line x1="1376.7" y1="96" x2="1524.2" y2="96" stroke="#ff0000"/>
<line x1="1376.7" y1="178.8" x2="1524.2" y2="178.8" stroke="#0000ff"/>
</g>
<g class="b" font-size="66.67">
<text x="1540.8" y="118.8">10%</text><text x="1692.5" y="118.8">TiC</text>
<text x="1540.8" y="201.1">30%</text><text x="1692.5" y="201.1">TiC</text>
<text x="232.4" y="141.1">Al</text>
<text x="406.6" y="141.1">TiC</text>
<text x="633.3" y="141.1">Al<tspan font-size="43.3" dy="17.8">12</tspan><tspan dy="-17.8">Mg</tspan><tspan font-size="43.3" dy="17.8">17</tspan></text>
<text x="1003.7" y="141.1">Al<tspan font-size="43.3" dy="17.8">3</tspan><tspan dy="-17.8">Mg</tspan><tspan font-size="43.3" dy="17.8">2</tspan></text>
</g>
<g>
<text class="s" transform="translate(364.6,642.6) scale(1.153,1)" font-size="49.79">♣</text>
<text class="s" transform="translate(642.0,638.0) scale(0.977,1)" font-size="48.97">♥</text>
<text class="s" transform="translate(742.2,414.3) scale(1.153,1)" font-size="49.79">♣</text>
<text class="s" transform="translate(746.8,467.1) scale(0.977,1)" font-size="48.97">♥</text>
<text class="D" transform="translate(746.6,518.2) scale(1.089,1)" font-size="59.81">Δ</text>
<text class="s" transform="translate(789.3,324.5) scale(1.153,1)" font-size="49.79">♣</text>
<text class="D" transform="translate(819.3,599.0) scale(1.089,1)" font-size="59.81">Δ</text>
<text class="s" transform="translate(844.2,636.3) scale(1.060,1)" font-size="51.03">♦</text>
<text class="s" transform="translate(864.6,588.8) scale(1.153,1)" font-size="49.79">♣</text>
<text class="s" transform="translate(892.0,495.2) scale(0.977,1)" font-size="48.97">♥</text>
<text class="D" transform="translate(889.9,545.5) scale(1.089,1)" font-size="59.81">Δ</text>
<text class="s" transform="translate(942.9,462.4) scale(1.153,1)" font-size="49.79">♣</text>
<text class="s" transform="translate(946.2,516.8) scale(0.977,1)" font-size="48.97">♥</text>
<text class="D" transform="translate(1356.6,613.6) scale(1.089,1)" font-size="59.81">Δ</text>
<text class="s" transform="translate(1399.1,633.7) scale(1.153,1)" font-size="49.79">♣</text>
<text class="s" transform="translate(1440.8,590.1) scale(0.977,1)" font-size="48.97">♥</text>
<text class="s" transform="translate(1465.5,629.2) scale(1.060,1)" font-size="51.03">♦</text>
<text class="s" transform="translate(1484.9,584.2) scale(1.153,1)" font-size="49.79">♣</text>
<text class="D" transform="translate(1650.7,628.8) scale(1.089,1)" font-size="59.81">Δ</text>
<text class="s" transform="translate(1751.9,502.8) scale(1.153,1)" font-size="49.79">♣</text>
<text class="s" transform="translate(1755.8,550.8) scale(0.977,1)" font-size="48.97">♥</text>
<text class="D" transform="translate(1756.3,603.7) scale(1.089,1)" font-size="59.81">Δ</text>
<text class="s" transform="translate(356.8,1107.7) scale(1.153,1)" font-size="49.79">♣</text>
<text class="s" transform="translate(746.9,810.6) scale(1.153,1)" font-size="49.79">♣</text>
<text class="s" transform="translate(751.1,859.2) scale(0.977,1)" font-size="48.97">♥</text>
<text class="D" transform="translate(748.1,906.5) scale(1.089,1)" font-size="59.81">Δ</text>
<text class="s" transform="translate(893.5,874.5) scale(0.977,1)" font-size="48.97">♥</text>
<text class="D" transform="translate(891.8,926.3) scale(1.089,1)" font-size="59.81">Δ</text>
<text class="s" transform="translate(793.6,1037.0) scale(1.153,1)" font-size="49.79">♣</text>
<text class="D" transform="translate(796.6,1091.5) scale(1.089,1)" font-size="59.81">Δ</text>
<text class="s" transform="translate(851.3,1077.4) scale(1.153,1)" font-size="49.79">♣</text>
<text class="s" transform="translate(939.9,1069.8) scale(1.153,1)" font-size="49.79">♣</text>
<text class="s" transform="translate(963.5,1110.3) scale(0.977,1)" font-size="48.97">♥</text>
<text class="s" transform="translate(1057.6,1113.7) scale(1.153,1)" font-size="49.79">♣</text>
<text class="D" transform="translate(1357.3,1016.0) scale(1.089,1)" font-size="59.81">Δ</text>
<text class="s" transform="translate(1400.5,1100.3) scale(1.153,1)" font-size="49.79">♣</text>
<text class="s" transform="translate(1468.7,1026.6) scale(1.153,1)" font-size="49.79">♣</text>
<text class="s" transform="translate(1472.6,1078.8) scale(0.977,1)" font-size="48.97">♥</text>
<text class="D" transform="translate(1648.8,1073.0) scale(1.089,1)" font-size="59.81">Δ</text>
<text class="s" transform="translate(1741.2,992.2) scale(1.153,1)" font-size="49.79">♣</text>
<text class="s" transform="translate(1745.9,1038.9) scale(0.977,1)" font-size="48.97">♥</text>
<text class="D" transform="translate(1744.8,1089.5) scale(1.089,1)" font-size="59.81">Δ</text>
<text class="s" transform="translate(165.5,141.1) scale(1.060,1)" font-size="51.03">♦</text>
<text class="D" transform="translate(345.7,141.1) scale(1.089,1)" font-size="59.81">Δ</text>
<text class="s" transform="translate(570.2,141.1) scale(0.977,1)" font-size="48.97">♥</text>
<text class="s" transform="translate(936.2,141.1) scale(1.153,1)" font-size="49.79">♣</text>
</g>
</svg>
</body></html>
